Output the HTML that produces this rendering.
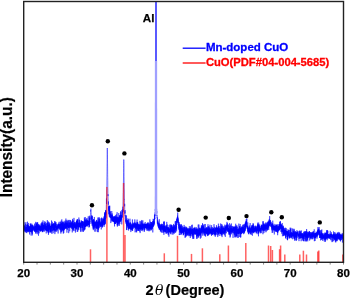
<!DOCTYPE html>
<html><head><meta charset="utf-8"><style>
html,body{margin:0;padding:0;background:#fff;width:350px;height:299px;overflow:hidden}
svg{display:block}
text{font-family:"Liberation Sans",sans-serif;font-weight:bold}
</style></head><body>
<svg width="350" height="299" viewBox="0 0 350 299">
<defs><clipPath id="c"><rect x="23.7" y="1.5" width="319.8" height="260.8"/></clipPath></defs>
<g clip-path="url(#c)">
<polyline fill="none" stroke="#0000ff" stroke-width="0.5" points="23.70,229.49 23.75,226.92 23.81,229.59 23.86,228.10 23.91,229.82 23.97,232.18 24.02,222.20 24.07,228.57 24.13,229.87 24.18,228.07 24.23,225.00 24.29,227.88 24.34,229.37 24.39,229.16 24.45,226.40 24.50,226.30 24.55,228.41 24.61,226.45 24.66,229.01 24.71,230.58 24.77,229.99 24.82,225.84 24.87,231.08 24.93,227.70 24.98,228.18 25.03,231.29 25.09,228.94 25.14,228.67 25.19,228.66 25.25,228.53 25.30,229.30 25.35,232.01 25.41,226.38 25.46,223.74 25.51,229.58 25.57,227.85 25.62,228.86 25.67,231.14 25.73,229.44 25.78,227.63 25.83,229.58 25.89,222.11 25.94,225.00 25.99,231.77 26.05,229.84 26.10,232.99 26.15,228.74 26.21,227.89 26.26,226.90 26.31,228.97 26.37,227.34 26.42,229.29 26.47,224.81 26.53,226.90 26.58,227.90 26.63,228.61 26.69,231.11 26.74,227.56 26.79,228.72 26.85,233.14 26.90,229.13 26.95,230.95 27.01,229.26 27.06,230.35 27.11,231.07 27.17,230.31 27.22,231.85 27.27,226.68 27.33,230.59 27.38,224.08 27.43,226.61 27.48,221.68 27.54,229.29 27.59,225.59 27.64,224.91 27.70,229.02 27.75,226.89 27.80,229.77 27.86,229.67 27.91,231.43 27.96,224.95 28.02,228.93 28.07,232.05 28.12,225.64 28.18,227.09 28.23,229.28 28.28,231.84 28.34,228.97 28.39,230.41 28.44,230.68 28.50,225.76 28.55,226.89 28.60,228.13 28.66,222.93 28.71,229.37 28.76,228.74 28.82,229.05 28.87,228.29 28.92,230.69 28.98,228.38 29.03,232.33 29.08,227.28 29.14,230.29 29.19,226.18 29.24,227.97 29.30,229.49 29.35,227.31 29.40,230.01 29.46,230.83 29.51,229.00 29.56,234.47 29.62,226.58 29.67,226.97 29.72,230.86 29.78,229.86 29.83,226.66 29.88,231.88 29.94,226.47 29.99,228.48 30.04,228.20 30.10,228.77 30.15,230.42 30.20,230.88 30.26,230.73 30.31,224.14 30.36,229.88 30.42,226.09 30.47,228.29 30.52,226.74 30.58,232.06 30.63,228.54 30.68,223.65 30.74,228.45 30.79,223.36 30.84,230.00 30.90,229.67 30.95,230.68 31.00,231.78 31.06,227.83 31.11,235.59 31.16,227.31 31.22,228.12 31.27,231.32 31.32,227.41 31.38,227.11 31.43,224.93 31.48,232.53 31.54,226.62 31.59,227.93 31.64,229.87 31.70,230.37 31.75,228.65 31.80,228.92 31.86,228.63 31.91,223.75 31.96,228.96 32.02,225.37 32.07,230.02 32.12,230.64 32.18,225.19 32.23,233.92 32.28,228.70 32.34,235.42 32.39,224.84 32.44,231.55 32.50,228.13 32.55,230.61 32.60,225.80 32.66,227.00 32.71,227.42 32.76,227.74 32.82,228.40 32.87,228.66 32.92,228.29 32.98,226.80 33.03,226.48 33.08,229.37 33.14,226.15 33.19,229.29 33.24,228.96 33.30,227.14 33.35,229.09 33.40,227.41 33.46,227.32 33.51,229.24 33.56,227.72 33.62,229.75 33.67,229.83 33.72,230.08 33.78,225.35 33.83,231.03 33.88,231.12 33.94,230.19 33.99,227.47 34.04,229.08 34.10,228.35 34.15,227.06 34.20,228.83 34.26,228.50 34.31,231.03 34.36,229.85 34.42,230.08 34.47,223.84 34.52,223.64 34.58,230.62 34.63,228.55 34.68,228.31 34.73,231.78 34.79,229.19 34.84,228.48 34.89,228.15 34.95,231.96 35.00,225.98 35.05,230.06 35.11,226.44 35.16,225.60 35.21,229.96 35.27,228.07 35.32,226.49 35.37,230.10 35.43,228.72 35.48,228.93 35.53,227.69 35.59,233.44 35.64,232.49 35.69,228.75 35.75,221.86 35.80,226.50 35.85,230.20 35.91,225.99 35.96,231.34 36.01,227.52 36.07,222.91 36.12,233.43 36.17,229.55 36.23,227.77 36.28,230.41 36.33,232.14 36.39,224.13 36.44,229.34 36.49,224.58 36.55,227.43 36.60,224.15 36.65,230.16 36.71,222.44 36.76,227.17 36.81,229.82 36.87,228.09 36.92,226.76 36.97,228.34 37.03,231.14 37.08,232.06 37.13,227.66 37.19,228.07 37.24,234.21 37.29,229.47 37.35,227.94 37.40,228.56 37.45,228.59 37.51,222.34 37.56,229.76 37.61,225.08 37.67,226.88 37.72,222.51 37.77,226.84 37.83,232.54 37.88,225.79 37.93,229.64 37.99,228.04 38.04,228.04 38.09,229.87 38.15,229.25 38.20,224.45 38.25,229.09 38.31,228.66 38.36,227.55 38.41,228.55 38.47,226.42 38.52,235.73 38.57,226.53 38.63,227.02 38.68,225.48 38.73,224.14 38.79,227.38 38.84,229.96 38.89,226.34 38.95,224.47 39.00,228.63 39.05,231.04 39.11,233.32 39.16,228.01 39.21,225.98 39.27,228.23 39.32,228.84 39.37,229.51 39.43,228.79 39.48,225.77 39.53,230.30 39.59,227.49 39.64,225.28 39.69,225.56 39.75,225.60 39.80,229.81 39.85,227.69 39.91,228.32 39.96,230.83 40.01,228.71 40.07,229.96 40.12,225.31 40.17,229.81 40.23,231.10 40.28,227.76 40.33,231.73 40.39,231.36 40.44,227.39 40.49,227.13 40.55,226.62 40.60,226.53 40.65,228.17 40.71,230.71 40.76,230.65 40.81,226.39 40.87,231.14 40.92,226.02 40.97,229.94 41.03,229.73 41.08,223.25 41.13,230.61 41.19,229.28 41.24,224.06 41.29,227.73 41.35,230.64 41.40,229.12 41.45,227.37 41.51,226.27 41.56,229.50 41.61,229.11 41.67,228.60 41.72,226.13 41.77,228.14 41.83,223.14 41.88,229.14 41.93,227.46 41.98,221.83 42.04,226.32 42.09,230.52 42.14,227.14 42.20,232.13 42.25,225.85 42.30,230.06 42.36,222.51 42.41,226.81 42.46,224.58 42.52,232.00 42.57,227.14 42.62,226.54 42.68,226.58 42.73,223.96 42.78,226.51 42.84,232.14 42.89,231.54 42.94,227.42 43.00,220.42 43.05,227.34 43.10,227.48 43.16,227.87 43.21,228.60 43.26,229.67 43.32,230.85 43.37,228.28 43.42,225.05 43.48,226.40 43.53,229.94 43.58,224.78 43.64,227.49 43.69,228.98 43.74,227.47 43.80,225.87 43.85,225.64 43.90,228.31 43.96,223.30 44.01,222.70 44.06,230.30 44.12,231.89 44.17,226.81 44.22,230.92 44.28,229.64 44.33,227.95 44.38,227.91 44.44,222.95 44.49,227.39 44.54,226.17 44.60,225.74 44.65,224.91 44.70,229.25 44.76,221.17 44.81,221.67 44.86,226.53 44.92,227.71 44.97,227.24 45.02,228.20 45.08,226.73 45.13,229.73 45.18,227.35 45.24,228.31 45.29,221.95 45.34,229.42 45.40,227.07 45.45,227.15 45.50,227.16 45.56,224.19 45.61,230.75 45.66,228.86 45.72,225.79 45.77,228.85 45.82,229.77 45.88,223.66 45.93,226.88 45.98,226.01 46.04,228.07 46.09,229.79 46.14,226.07 46.20,231.07 46.25,233.43 46.30,228.14 46.36,229.90 46.41,227.97 46.46,228.45 46.52,226.33 46.57,227.33 46.62,230.49 46.68,226.40 46.73,230.71 46.78,231.21 46.84,222.83 46.89,226.00 46.94,230.88 47.00,227.06 47.05,226.20 47.10,223.56 47.16,227.92 47.21,230.83 47.26,226.25 47.32,220.07 47.37,231.13 47.42,225.03 47.48,227.59 47.53,228.71 47.58,230.25 47.64,232.48 47.69,228.05 47.74,228.71 47.80,227.68 47.85,223.81 47.90,221.63 47.96,228.11 48.01,226.12 48.06,226.92 48.12,223.02 48.17,228.65 48.22,228.60 48.28,228.79 48.33,226.74 48.38,221.61 48.44,234.89 48.49,225.22 48.54,229.79 48.60,229.37 48.65,233.30 48.70,225.82 48.76,231.33 48.81,226.41 48.86,227.71 48.92,227.22 48.97,227.31 49.02,226.72 49.08,226.31 49.13,232.52 49.18,224.13 49.23,229.47 49.29,225.87 49.34,229.21 49.39,229.16 49.45,222.43 49.50,226.86 49.55,229.15 49.61,225.39 49.66,229.69 49.71,224.71 49.77,223.51 49.82,224.85 49.87,227.73 49.93,228.41 49.98,227.42 50.03,228.57 50.09,231.75 50.14,227.08 50.19,225.80 50.25,229.22 50.30,228.01 50.35,232.62 50.41,226.71 50.46,232.27 50.51,226.14 50.57,226.20 50.62,230.85 50.67,228.63 50.73,228.21 50.78,229.19 50.83,228.62 50.89,228.60 50.94,225.57 50.99,229.09 51.05,229.65 51.10,227.01 51.15,223.67 51.21,223.55 51.26,227.00 51.31,227.48 51.37,226.15 51.42,232.50 51.47,224.49 51.53,220.51 51.58,226.39 51.63,225.27 51.69,230.79 51.74,227.03 51.79,227.15 51.85,226.22 51.90,233.95 51.95,228.71 52.01,225.42 52.06,224.42 52.11,227.83 52.17,227.15 52.22,226.37 52.27,224.95 52.33,221.78 52.38,225.10 52.43,227.00 52.49,229.53 52.54,231.26 52.59,230.19 52.65,227.51 52.70,224.13 52.75,224.21 52.81,224.86 52.86,225.26 52.91,228.06 52.97,223.99 53.02,229.91 53.07,230.36 53.13,223.66 53.18,233.18 53.23,225.55 53.29,227.32 53.34,230.39 53.39,223.27 53.45,225.69 53.50,225.91 53.55,226.49 53.61,224.85 53.66,225.88 53.71,226.88 53.77,230.05 53.82,230.16 53.87,223.34 53.93,225.72 53.98,228.94 54.03,225.47 54.09,224.43 54.14,228.88 54.19,224.91 54.25,230.53 54.30,227.60 54.35,229.48 54.41,230.14 54.46,227.33 54.51,226.34 54.57,228.40 54.62,221.22 54.67,225.05 54.73,228.96 54.78,223.06 54.83,229.59 54.89,234.13 54.94,225.94 54.99,232.23 55.05,229.09 55.10,230.66 55.15,221.36 55.21,225.88 55.26,225.56 55.31,228.65 55.37,230.84 55.42,229.30 55.47,225.65 55.53,227.05 55.58,223.33 55.63,227.71 55.69,224.96 55.74,222.67 55.79,225.61 55.85,223.60 55.90,222.09 55.95,224.57 56.01,224.33 56.06,227.38 56.11,225.91 56.17,230.33 56.22,231.14 56.27,231.87 56.33,229.45 56.38,230.35 56.43,227.20 56.48,229.69 56.54,225.66 56.59,224.12 56.64,224.21 56.70,227.96 56.75,228.78 56.80,225.69 56.86,227.31 56.91,229.12 56.96,227.85 57.02,227.15 57.07,231.19 57.12,226.46 57.18,225.53 57.23,226.22 57.28,229.89 57.34,227.77 57.39,228.07 57.44,226.63 57.50,227.97 57.55,224.35 57.60,228.46 57.66,228.84 57.71,226.44 57.76,226.98 57.82,227.77 57.87,226.49 57.92,225.69 57.98,227.78 58.03,227.46 58.08,227.16 58.14,233.51 58.19,225.00 58.24,226.50 58.30,223.53 58.35,226.96 58.40,224.68 58.46,227.50 58.51,226.26 58.56,224.10 58.62,228.28 58.67,227.57 58.72,227.95 58.78,228.38 58.83,225.23 58.88,223.87 58.94,224.44 58.99,221.84 59.04,224.80 59.10,228.78 59.15,225.19 59.20,223.77 59.26,227.30 59.31,225.14 59.36,227.12 59.42,227.03 59.47,226.93 59.52,225.67 59.58,224.69 59.63,224.54 59.68,229.29 59.74,228.49 59.79,224.47 59.84,227.55 59.90,228.08 59.95,230.21 60.00,226.47 60.06,228.15 60.11,223.37 60.16,221.65 60.22,225.72 60.27,224.61 60.32,224.72 60.38,225.68 60.43,228.17 60.48,230.09 60.54,223.86 60.59,225.67 60.64,224.75 60.70,223.71 60.75,222.20 60.80,224.14 60.86,233.62 60.91,228.06 60.96,228.10 61.02,225.81 61.07,232.30 61.12,224.47 61.18,220.64 61.23,231.65 61.28,227.36 61.34,228.62 61.39,226.54 61.44,222.85 61.50,223.77 61.55,226.04 61.60,227.31 61.66,229.26 61.71,223.11 61.76,225.55 61.82,219.35 61.87,227.81 61.92,226.51 61.98,227.47 62.03,231.54 62.08,228.69 62.14,224.28 62.19,230.63 62.24,227.59 62.30,229.61 62.35,227.18 62.40,229.72 62.46,221.64 62.51,224.75 62.56,229.58 62.62,224.00 62.67,224.89 62.72,222.42 62.78,226.49 62.83,224.88 62.88,222.75 62.94,226.41 62.99,230.53 63.04,224.61 63.10,221.76 63.15,226.86 63.20,228.42 63.26,225.46 63.31,233.62 63.36,227.17 63.42,228.29 63.47,229.73 63.52,230.60 63.58,222.53 63.63,225.02 63.68,225.53 63.73,226.44 63.79,233.09 63.84,224.66 63.89,227.18 63.95,229.67 64.00,229.61 64.05,227.41 64.11,229.42 64.16,226.40 64.21,220.78 64.27,230.24 64.32,224.79 64.37,222.43 64.43,224.98 64.48,225.59 64.53,225.37 64.59,224.21 64.64,227.25 64.69,224.97 64.75,224.76 64.80,226.72 64.85,229.02 64.91,224.68 64.96,223.82 65.01,226.51 65.07,223.36 65.12,228.67 65.17,225.57 65.23,224.10 65.28,226.00 65.33,226.22 65.39,227.96 65.44,224.72 65.49,225.51 65.55,227.51 65.60,226.85 65.65,220.56 65.71,227.05 65.76,222.03 65.81,227.66 65.87,228.60 65.92,218.55 65.97,228.03 66.03,226.42 66.08,222.92 66.13,228.88 66.19,223.10 66.24,226.17 66.29,225.16 66.35,225.19 66.40,228.14 66.45,224.34 66.51,223.72 66.56,220.39 66.61,222.94 66.67,225.38 66.72,226.87 66.77,227.34 66.83,223.31 66.88,225.08 66.93,232.66 66.99,228.41 67.04,224.64 67.09,223.81 67.15,225.91 67.20,222.26 67.25,229.95 67.31,228.14 67.36,228.66 67.41,226.27 67.47,221.71 67.52,220.88 67.57,222.35 67.63,226.00 67.68,223.52 67.73,226.65 67.79,223.92 67.84,225.42 67.89,227.29 67.95,219.82 68.00,225.90 68.05,225.66 68.11,227.83 68.16,226.62 68.21,226.17 68.27,227.77 68.32,227.90 68.37,225.71 68.43,225.12 68.48,227.86 68.53,225.13 68.59,220.25 68.64,223.51 68.69,233.17 68.75,224.92 68.80,225.39 68.85,224.51 68.91,222.98 68.96,224.34 69.01,221.81 69.07,225.85 69.12,226.76 69.17,226.47 69.23,226.83 69.28,226.06 69.33,225.31 69.39,227.84 69.44,224.87 69.49,223.54 69.55,225.23 69.60,225.24 69.65,226.42 69.71,231.30 69.76,229.34 69.81,219.88 69.87,227.20 69.92,225.56 69.97,224.97 70.03,222.62 70.08,223.82 70.13,220.06 70.19,222.07 70.24,227.98 70.29,225.90 70.35,223.37 70.40,226.71 70.45,225.82 70.51,225.90 70.56,226.12 70.61,227.16 70.67,226.58 70.72,220.65 70.77,226.26 70.83,223.80 70.88,223.52 70.93,227.10 70.98,226.08 71.04,223.12 71.09,226.74 71.14,224.37 71.20,226.68 71.25,226.57 71.30,226.29 71.36,225.27 71.41,228.20 71.46,221.72 71.52,224.91 71.57,224.20 71.62,222.79 71.68,223.62 71.73,224.78 71.78,222.48 71.84,227.44 71.89,228.16 71.94,228.65 72.00,227.28 72.05,227.29 72.10,228.74 72.16,223.85 72.21,223.88 72.26,232.45 72.32,220.82 72.37,227.98 72.42,223.52 72.48,228.18 72.53,227.01 72.58,218.85 72.64,224.20 72.69,229.71 72.74,228.38 72.80,222.86 72.85,224.12 72.90,226.69 72.96,219.93 73.01,222.49 73.06,220.98 73.12,225.73 73.17,224.62 73.22,231.12 73.28,227.73 73.33,230.22 73.38,224.86 73.44,225.03 73.49,223.23 73.54,229.16 73.60,226.12 73.65,225.92 73.70,223.99 73.76,223.88 73.81,228.44 73.86,228.44 73.92,226.71 73.97,217.89 74.02,225.00 74.08,223.62 74.13,225.14 74.18,227.91 74.24,223.38 74.29,223.81 74.34,222.23 74.40,225.09 74.45,224.06 74.50,225.23 74.56,226.55 74.61,227.39 74.66,223.95 74.72,224.59 74.77,226.27 74.82,225.87 74.88,227.84 74.93,221.99 74.98,231.09 75.04,222.40 75.09,225.77 75.14,225.91 75.20,226.90 75.25,224.95 75.30,226.35 75.36,228.49 75.41,232.58 75.46,226.34 75.52,224.66 75.57,228.03 75.62,228.68 75.68,225.78 75.73,226.55 75.78,222.79 75.84,223.76 75.89,227.61 75.94,223.56 76.00,226.25 76.05,228.12 76.10,226.09 76.16,228.15 76.21,228.24 76.26,228.41 76.32,222.81 76.37,221.52 76.42,226.93 76.48,220.79 76.53,225.77 76.58,229.49 76.64,225.44 76.69,229.23 76.74,226.05 76.80,220.55 76.85,226.05 76.90,223.34 76.96,221.33 77.01,224.46 77.06,219.31 77.12,221.41 77.17,223.95 77.22,232.00 77.28,225.59 77.33,222.84 77.38,221.61 77.44,226.50 77.49,227.26 77.54,219.07 77.60,221.20 77.65,223.58 77.70,219.96 77.76,225.02 77.81,231.61 77.86,224.55 77.92,226.81 77.97,222.90 78.02,224.42 78.08,224.41 78.13,223.30 78.18,225.52 78.23,224.98 78.29,225.06 78.34,222.86 78.39,229.39 78.45,225.90 78.50,225.94 78.55,227.61 78.61,223.44 78.66,223.62 78.71,225.69 78.77,230.15 78.82,227.05 78.87,217.50 78.93,225.99 78.98,222.67 79.03,226.83 79.09,225.03 79.14,226.73 79.19,219.52 79.25,226.54 79.30,224.89 79.35,223.77 79.41,222.51 79.46,223.95 79.51,226.81 79.57,223.71 79.62,225.31 79.67,224.51 79.73,220.14 79.78,225.65 79.83,227.03 79.89,223.64 79.94,227.00 79.99,223.47 80.05,226.43 80.10,224.85 80.15,227.70 80.21,225.16 80.26,227.66 80.31,223.95 80.37,223.13 80.42,228.22 80.47,223.82 80.53,223.04 80.58,228.11 80.63,225.22 80.69,227.52 80.74,231.36 80.79,221.89 80.85,224.80 80.90,232.05 80.95,226.04 81.01,224.61 81.06,225.27 81.11,225.68 81.17,225.93 81.22,223.44 81.27,225.95 81.33,221.46 81.38,222.88 81.43,220.32 81.49,225.11 81.54,225.36 81.59,222.23 81.65,224.81 81.70,226.10 81.75,223.38 81.81,223.72 81.86,227.85 81.91,227.05 81.97,221.17 82.02,224.31 82.07,223.21 82.13,227.74 82.18,223.24 82.23,230.53 82.29,223.38 82.34,227.61 82.39,221.17 82.45,226.62 82.50,221.81 82.55,227.79 82.61,222.44 82.66,221.94 82.71,222.21 82.77,221.27 82.82,222.46 82.87,231.82 82.93,224.53 82.98,223.76 83.03,224.09 83.09,224.07 83.14,224.83 83.19,221.52 83.25,221.90 83.30,225.67 83.35,226.97 83.41,231.75 83.46,227.30 83.51,224.89 83.57,224.24 83.62,221.65 83.67,225.15 83.73,225.24 83.78,223.99 83.83,224.61 83.89,230.29 83.94,223.86 83.99,224.48 84.05,222.18 84.10,225.54 84.15,224.22 84.21,225.86 84.26,224.37 84.31,225.54 84.37,217.51 84.42,230.38 84.47,221.73 84.53,225.93 84.58,223.28 84.63,224.71 84.69,224.74 84.74,229.32 84.79,223.87 84.85,218.80 84.90,220.74 84.95,229.50 85.01,225.77 85.06,220.26 85.11,226.93 85.17,223.32 85.22,216.99 85.27,222.67 85.33,223.81 85.38,223.20 85.43,221.89 85.48,227.01 85.54,225.27 85.59,224.89 85.64,223.95 85.70,225.38 85.75,219.91 85.80,227.08 85.86,222.85 85.91,221.66 85.96,219.81 86.02,224.15 86.07,222.59 86.12,225.41 86.18,224.02 86.23,225.47 86.28,222.02 86.34,221.63 86.39,225.82 86.44,222.01 86.50,223.48 86.55,225.17 86.60,223.88 86.66,224.56 86.71,218.60 86.76,226.18 86.82,220.75 86.87,224.22 86.92,225.39 86.98,218.21 87.03,223.12 87.08,225.65 87.14,220.92 87.19,220.07 87.24,226.63 87.30,223.42 87.35,222.76 87.40,225.26 87.46,220.71 87.51,225.18 87.56,224.17 87.62,221.85 87.67,223.33 87.72,220.78 87.78,223.25 87.83,223.10 87.88,221.99 87.94,224.34 87.99,220.39 88.04,222.28 88.10,221.58 88.15,223.49 88.20,221.32 88.26,216.35 88.31,222.40 88.36,223.66 88.42,224.87 88.47,221.04 88.52,222.48 88.58,224.93 88.63,221.51 88.68,224.68 88.74,223.93 88.79,225.02 88.84,221.60 88.90,223.78 88.95,220.99 89.00,227.55 89.06,224.00 89.11,226.50 89.16,220.60 89.22,223.49 89.27,223.83 89.32,220.92 89.38,215.73 89.43,226.82 89.48,223.53 89.54,218.08 89.59,218.20 89.64,222.07 89.70,219.27 89.75,217.72 89.80,218.66 89.86,221.49 89.91,222.27 89.96,220.59 90.02,224.01 90.07,221.08 90.12,216.87 90.18,219.73 90.23,216.14 90.28,216.58 90.34,216.67 90.39,216.28 90.44,216.07 90.50,214.37 90.55,212.33 90.60,210.35 90.66,211.32 90.71,210.40 90.76,209.90 90.82,209.27 90.87,209.03 90.92,208.67 90.98,208.82 91.03,209.85 91.08,210.76 91.14,211.42 91.19,212.20 91.24,212.90 91.30,214.94 91.35,216.02 91.40,216.22 91.46,215.59 91.51,219.62 91.56,216.45 91.62,218.31 91.67,219.71 91.72,221.68 91.78,222.33 91.83,215.58 91.88,219.64 91.94,217.39 91.99,223.51 92.04,222.23 92.10,225.78 92.15,220.02 92.20,221.21 92.26,223.89 92.31,220.03 92.36,220.21 92.42,215.83 92.47,219.46 92.52,222.54 92.58,221.35 92.63,222.37 92.68,220.45 92.74,221.61 92.79,225.52 92.84,221.65 92.89,221.96 92.95,222.23 93.00,227.44 93.05,221.80 93.11,222.89 93.16,228.75 93.21,225.00 93.27,219.60 93.32,230.14 93.37,220.14 93.43,226.09 93.48,221.55 93.53,219.09 93.59,220.38 93.64,222.03 93.69,226.34 93.75,223.05 93.80,228.35 93.85,219.53 93.91,228.98 93.96,222.59 94.01,223.94 94.07,223.97 94.12,224.01 94.17,225.01 94.23,224.12 94.28,223.55 94.33,216.96 94.39,221.07 94.44,227.17 94.49,223.23 94.55,223.79 94.60,225.97 94.65,225.03 94.71,225.83 94.76,231.62 94.81,227.03 94.87,221.44 94.92,227.72 94.97,221.87 95.03,224.69 95.08,222.56 95.13,221.69 95.19,222.91 95.24,223.96 95.29,224.42 95.35,222.01 95.40,225.26 95.45,223.79 95.51,226.06 95.56,224.40 95.61,223.41 95.67,224.51 95.72,224.98 95.77,222.65 95.83,225.63 95.88,231.65 95.93,225.50 95.99,228.06 96.04,225.99 96.09,224.14 96.15,226.64 96.20,220.88 96.25,228.23 96.31,225.54 96.36,223.60 96.41,219.97 96.47,220.43 96.52,228.88 96.57,228.92 96.63,224.61 96.68,225.45 96.73,226.28 96.79,219.88 96.84,223.33 96.89,227.65 96.95,223.88 97.00,222.29 97.05,225.07 97.11,222.73 97.16,226.59 97.21,225.47 97.27,222.37 97.32,227.77 97.37,228.87 97.43,221.80 97.48,224.41 97.53,232.12 97.59,223.43 97.64,226.03 97.69,227.58 97.75,221.52 97.80,223.73 97.85,217.56 97.91,224.82 97.96,226.84 98.01,222.91 98.07,224.48 98.12,222.73 98.17,228.74 98.23,225.26 98.28,223.42 98.33,228.47 98.39,232.17 98.44,223.40 98.49,229.81 98.55,221.34 98.60,226.27 98.65,227.51 98.71,226.26 98.76,227.14 98.81,217.44 98.87,223.15 98.92,224.73 98.97,224.14 99.03,218.75 99.08,223.79 99.13,223.91 99.19,217.44 99.24,217.44 99.29,228.24 99.35,226.26 99.40,218.89 99.45,222.62 99.51,220.98 99.56,224.14 99.61,221.10 99.67,222.66 99.72,223.36 99.77,222.68 99.83,225.64 99.88,224.85 99.93,221.25 99.99,226.65 100.04,222.56 100.09,223.38 100.14,223.14 100.20,226.62 100.25,221.86 100.30,223.15 100.36,224.99 100.41,224.92 100.46,224.27 100.52,223.50 100.57,226.78 100.62,224.22 100.68,223.67 100.73,223.90 100.78,224.06 100.84,225.72 100.89,225.60 100.94,222.88 101.00,224.75 101.05,218.46 101.10,222.40 101.16,222.68 101.21,218.31 101.26,229.45 101.32,227.47 101.37,222.39 101.42,223.95 101.48,224.67 101.53,225.02 101.58,224.43 101.64,220.53 101.69,217.50 101.74,221.17 101.80,225.92 101.85,225.30 101.90,222.08 101.96,225.42 102.01,226.88 102.06,220.61 102.12,226.42 102.17,223.26 102.22,224.64 102.28,222.60 102.33,227.63 102.38,221.69 102.44,225.22 102.49,218.38 102.54,222.76 102.60,223.14 102.65,226.62 102.70,224.06 102.76,222.59 102.81,222.50 102.86,221.84 102.92,220.59 102.97,223.92 103.02,224.16 103.08,221.84 103.13,220.15 103.18,219.08 103.24,221.12 103.29,222.69 103.34,225.35 103.40,219.88 103.45,222.31 103.50,218.90 103.56,218.83 103.61,222.56 103.66,222.44 103.72,217.69 103.77,218.70 103.82,222.87 103.88,221.59 103.93,225.11 103.98,219.17 104.04,219.39 104.09,216.39 104.14,226.86 104.20,219.35 104.25,223.65 104.30,221.66 104.36,224.93 104.41,216.30 104.46,219.02 104.52,222.72 104.57,219.47 104.62,212.87 104.68,220.76 104.73,214.26 104.78,221.82 104.84,224.78 104.89,212.06 104.94,219.21 105.00,218.34 105.05,217.65 105.10,219.77 105.16,223.98 105.21,212.46 105.26,217.71 105.32,223.54 105.37,218.05 105.42,218.63 105.48,216.79 105.53,211.12 105.58,214.96 105.64,209.98 105.69,213.38 105.74,217.13 105.80,210.36 105.85,214.62 105.90,212.68 105.96,211.78 106.01,213.12 106.06,218.35 106.12,214.92 106.17,212.22 106.22,210.82 106.28,206.74 106.33,204.75 106.38,204.60 106.44,198.49 106.49,204.09 106.54,202.29 106.60,196.78 106.65,194.49 106.70,192.10 106.76,188.80 106.81,185.65 106.86,178.99 106.92,176.28 106.97,171.69 107.02,166.30 107.08,162.14 107.13,157.27 107.18,153.18 107.24,149.75 107.29,148.01 107.34,149.30 107.39,151.05 107.45,154.65 107.50,159.72 107.55,163.19 107.61,168.03 107.66,174.56 107.71,177.63 107.77,180.64 107.82,187.77 107.87,188.75 107.93,190.22 107.98,196.08 108.03,194.20 108.09,196.06 108.14,197.84 108.19,198.37 108.25,201.91 108.30,204.50 108.35,203.67 108.41,201.46 108.46,203.78 108.51,207.18 108.57,211.45 108.62,208.27 108.67,206.55 108.73,209.58 108.78,206.45 108.83,208.43 108.89,210.70 108.94,214.52 108.99,211.88 109.05,214.00 109.10,212.92 109.15,206.37 109.21,208.48 109.26,216.61 109.31,214.54 109.37,213.10 109.42,209.79 109.47,212.70 109.53,205.92 109.58,213.58 109.63,217.29 109.69,211.75 109.74,205.65 109.79,212.32 109.85,212.48 109.90,212.66 109.95,214.75 110.01,212.02 110.06,212.69 110.11,214.21 110.17,217.60 110.22,214.17 110.27,215.96 110.33,215.02 110.38,211.08 110.43,213.62 110.49,214.13 110.54,216.55 110.59,214.69 110.65,214.29 110.70,218.03 110.75,215.27 110.81,223.08 110.86,218.20 110.91,215.49 110.97,218.18 111.02,217.95 111.07,213.58 111.13,216.83 111.18,216.29 111.23,215.31 111.29,217.77 111.34,219.20 111.39,218.97 111.45,217.79 111.50,216.06 111.55,215.03 111.61,217.30 111.66,217.49 111.71,220.35 111.77,210.97 111.82,217.21 111.87,215.19 111.93,216.43 111.98,220.66 112.03,214.87 112.09,221.86 112.14,215.41 112.19,217.93 112.25,213.46 112.30,217.77 112.35,221.08 112.41,219.75 112.46,220.63 112.51,219.85 112.57,217.90 112.62,218.63 112.67,217.25 112.73,216.91 112.78,220.04 112.83,221.35 112.89,219.95 112.94,217.26 112.99,219.80 113.05,218.82 113.10,216.30 113.15,218.01 113.21,220.29 113.26,218.85 113.31,217.55 113.37,218.33 113.42,219.29 113.47,217.27 113.53,221.97 113.58,220.11 113.63,220.42 113.69,220.61 113.74,221.02 113.79,217.40 113.85,221.96 113.90,218.44 113.95,218.79 114.01,220.77 114.06,216.02 114.11,219.65 114.17,222.22 114.22,218.00 114.27,216.47 114.33,223.71 114.38,219.38 114.43,218.31 114.49,218.54 114.54,226.41 114.59,221.31 114.64,223.15 114.70,216.75 114.75,219.51 114.80,221.94 114.86,219.71 114.91,222.37 114.96,217.00 115.02,218.38 115.07,223.94 115.12,216.15 115.18,217.10 115.23,223.86 115.28,217.08 115.34,220.36 115.39,215.16 115.44,216.78 115.50,219.38 115.55,217.81 115.60,217.78 115.66,220.96 115.71,224.00 115.76,221.90 115.82,217.41 115.87,217.33 115.92,216.50 115.98,221.88 116.03,220.95 116.08,222.18 116.14,217.28 116.19,219.99 116.24,222.18 116.30,218.04 116.35,217.87 116.40,214.31 116.46,219.83 116.51,220.95 116.56,218.66 116.62,222.82 116.67,217.34 116.72,220.08 116.78,221.26 116.83,219.42 116.88,222.31 116.94,221.53 116.99,218.40 117.04,219.31 117.10,212.20 117.15,219.82 117.20,225.30 117.26,218.92 117.31,219.39 117.36,226.63 117.42,216.74 117.47,219.03 117.52,217.45 117.58,218.55 117.63,218.48 117.68,225.36 117.74,221.72 117.79,219.78 117.84,221.22 117.90,219.58 117.95,219.75 118.00,220.86 118.06,222.69 118.11,219.16 118.16,217.01 118.22,222.36 118.27,223.96 118.32,225.68 118.38,220.03 118.43,220.49 118.48,224.03 118.54,218.15 118.59,219.52 118.64,218.13 118.70,217.74 118.75,213.08 118.80,216.11 118.86,221.31 118.91,218.58 118.96,221.12 119.02,220.03 119.07,220.56 119.12,217.11 119.18,218.74 119.23,222.83 119.28,217.33 119.34,221.59 119.39,216.37 119.44,225.77 119.50,218.51 119.55,220.26 119.60,216.66 119.66,221.36 119.71,219.12 119.76,215.90 119.82,215.05 119.87,223.91 119.92,216.87 119.98,217.74 120.03,215.15 120.08,217.83 120.14,221.33 120.19,217.59 120.24,215.53 120.30,221.12 120.35,217.61 120.40,217.44 120.46,217.14 120.51,220.20 120.56,220.70 120.62,211.28 120.67,219.54 120.72,222.01 120.78,216.25 120.83,217.02 120.88,212.19 120.94,216.90 120.99,219.63 121.04,214.72 121.10,219.52 121.15,217.29 121.20,215.78 121.26,220.60 121.31,215.29 121.36,217.50 121.42,217.74 121.47,219.11 121.52,215.77 121.58,217.43 121.63,216.40 121.68,215.98 121.74,224.40 121.79,220.16 121.84,220.11 121.89,209.91 121.95,215.64 122.00,215.49 122.05,215.13 122.11,217.53 122.16,215.19 122.21,217.49 122.27,215.35 122.32,214.39 122.37,211.04 122.43,214.95 122.48,212.10 122.53,212.56 122.59,210.75 122.64,212.05 122.69,211.41 122.75,211.04 122.80,206.70 122.85,211.21 122.91,209.01 122.96,211.86 123.01,209.59 123.07,202.16 123.12,201.24 123.17,197.05 123.23,193.07 123.28,192.86 123.33,189.23 123.39,186.81 123.44,180.97 123.49,178.02 123.55,172.73 123.60,168.55 123.65,165.33 123.71,161.31 123.76,159.53 123.81,159.58 123.87,161.19 123.92,163.62 123.97,167.12 124.03,172.15 124.08,176.42 124.13,180.96 124.19,187.24 124.24,188.26 124.29,189.13 124.35,193.02 124.40,199.27 124.45,198.98 124.51,202.71 124.56,204.42 124.61,206.37 124.67,203.83 124.72,209.24 124.77,214.25 124.83,211.48 124.88,212.13 124.93,212.89 124.99,212.77 125.04,210.00 125.09,215.11 125.15,216.38 125.20,215.03 125.25,216.37 125.31,216.67 125.36,219.30 125.41,218.34 125.47,216.41 125.52,215.59 125.57,218.15 125.63,219.88 125.68,221.48 125.73,220.64 125.79,219.69 125.84,221.64 125.89,219.00 125.95,221.82 126.00,222.73 126.05,223.48 126.11,220.30 126.16,223.20 126.21,223.67 126.27,221.18 126.32,221.74 126.37,221.28 126.43,222.35 126.48,224.68 126.53,215.36 126.59,229.91 126.64,227.11 126.69,226.63 126.75,225.10 126.80,221.66 126.85,230.11 126.91,221.98 126.96,222.20 127.01,222.09 127.07,225.54 127.12,223.68 127.17,218.37 127.23,224.79 127.28,220.43 127.33,226.22 127.39,223.58 127.44,221.62 127.49,226.08 127.55,221.39 127.60,224.10 127.65,220.28 127.71,225.60 127.76,224.89 127.81,227.72 127.87,224.69 127.92,220.10 127.97,224.06 128.03,223.29 128.08,220.89 128.13,223.03 128.19,225.71 128.24,227.19 128.29,223.93 128.35,224.21 128.40,224.78 128.45,228.65 128.51,218.73 128.56,230.49 128.61,227.47 128.67,224.58 128.72,228.24 128.77,222.88 128.83,228.65 128.88,226.06 128.93,222.26 128.99,224.91 129.04,229.28 129.09,223.94 129.14,226.11 129.20,227.53 129.25,227.46 129.30,228.09 129.36,223.44 129.41,228.66 129.46,228.48 129.52,226.15 129.57,227.05 129.62,226.18 129.68,225.87 129.73,226.01 129.78,228.15 129.84,223.49 129.89,224.01 129.94,218.68 130.00,224.34 130.05,227.02 130.10,225.20 130.16,227.97 130.21,223.54 130.26,223.39 130.32,224.76 130.37,224.59 130.42,222.13 130.48,224.29 130.53,229.59 130.58,226.45 130.64,223.46 130.69,223.14 130.74,225.98 130.80,228.41 130.85,232.07 130.90,226.60 130.96,228.89 131.01,226.77 131.06,228.87 131.12,225.12 131.17,223.59 131.22,230.13 131.28,226.52 131.33,225.47 131.38,228.33 131.44,225.69 131.49,228.70 131.54,229.43 131.60,227.89 131.65,225.55 131.70,225.08 131.76,226.53 131.81,226.81 131.86,226.58 131.92,226.05 131.97,224.05 132.02,224.58 132.08,224.01 132.13,230.60 132.18,224.86 132.24,230.32 132.29,224.39 132.34,223.96 132.40,219.43 132.45,229.18 132.50,228.16 132.56,225.89 132.61,230.99 132.66,227.89 132.72,227.45 132.77,229.05 132.82,225.89 132.88,222.62 132.93,226.85 132.98,226.93 133.04,226.24 133.09,228.79 133.14,224.73 133.20,225.51 133.25,224.72 133.30,226.06 133.36,224.99 133.41,225.72 133.46,223.36 133.52,227.12 133.57,224.83 133.62,227.07 133.68,226.43 133.73,227.66 133.78,224.48 133.84,226.97 133.89,226.68 133.94,226.39 134.00,224.05 134.05,227.33 134.10,223.14 134.16,227.72 134.21,227.24 134.26,225.42 134.32,222.27 134.37,227.03 134.42,224.95 134.48,225.34 134.53,224.19 134.58,227.53 134.64,223.45 134.69,226.85 134.74,225.29 134.80,219.38 134.85,219.46 134.90,222.98 134.96,226.95 135.01,225.23 135.06,223.13 135.12,232.39 135.17,226.98 135.22,227.00 135.28,226.83 135.33,225.62 135.38,223.15 135.44,227.11 135.49,225.81 135.54,226.85 135.60,228.50 135.65,224.53 135.70,225.04 135.76,225.57 135.81,229.15 135.86,223.91 135.92,225.12 135.97,224.42 136.02,227.04 136.08,221.89 136.13,224.91 136.18,232.06 136.24,226.22 136.29,227.19 136.34,224.53 136.39,225.52 136.45,228.00 136.50,224.08 136.55,226.94 136.61,226.79 136.66,232.43 136.71,229.49 136.77,230.92 136.82,225.73 136.87,227.88 136.93,223.11 136.98,225.37 137.03,227.74 137.09,219.58 137.14,229.33 137.19,228.65 137.25,227.69 137.30,228.92 137.35,223.43 137.41,228.18 137.46,225.32 137.51,224.29 137.57,222.16 137.62,227.95 137.67,222.16 137.73,230.78 137.78,227.41 137.83,224.86 137.89,223.73 137.94,227.28 137.99,224.71 138.05,223.75 138.10,230.59 138.15,225.59 138.21,225.84 138.26,225.80 138.31,229.79 138.37,226.99 138.42,226.75 138.47,224.21 138.53,230.05 138.58,230.98 138.63,224.58 138.69,224.53 138.74,229.28 138.79,228.91 138.85,228.46 138.90,227.24 138.95,227.11 139.01,225.18 139.06,230.93 139.11,228.52 139.17,228.00 139.22,228.18 139.27,228.94 139.33,226.00 139.38,228.82 139.43,227.22 139.49,226.11 139.54,224.60 139.59,227.27 139.65,226.23 139.70,227.70 139.75,224.52 139.81,231.64 139.86,230.35 139.91,220.85 139.97,227.11 140.02,228.80 140.07,224.63 140.13,233.10 140.18,225.63 140.23,225.61 140.29,229.85 140.34,224.43 140.39,227.63 140.45,227.55 140.50,226.12 140.55,227.85 140.61,229.30 140.66,225.33 140.71,224.71 140.77,227.28 140.82,226.02 140.87,221.27 140.93,229.08 140.98,229.02 141.03,226.35 141.09,225.50 141.14,226.74 141.19,222.48 141.25,224.35 141.30,226.65 141.35,227.41 141.41,227.05 141.46,228.62 141.51,230.83 141.57,230.40 141.62,226.34 141.67,229.36 141.73,219.96 141.78,229.05 141.83,228.98 141.89,226.28 141.94,221.25 141.99,228.45 142.05,228.63 142.10,229.54 142.15,225.61 142.21,224.36 142.26,225.50 142.31,226.07 142.37,227.02 142.42,228.17 142.47,226.46 142.53,229.86 142.58,223.73 142.63,227.41 142.69,226.39 142.74,231.21 142.79,227.04 142.85,220.35 142.90,226.02 142.95,223.27 143.01,230.01 143.06,227.63 143.11,227.29 143.17,225.04 143.22,224.38 143.27,226.54 143.33,227.47 143.38,228.15 143.43,224.77 143.49,224.69 143.54,226.94 143.59,226.79 143.64,224.48 143.70,224.12 143.75,226.80 143.80,228.53 143.86,228.20 143.91,227.16 143.96,226.53 144.02,225.56 144.07,228.59 144.12,223.56 144.18,223.91 144.23,228.63 144.28,231.97 144.34,226.42 144.39,230.76 144.44,228.93 144.50,228.16 144.55,227.33 144.60,225.05 144.66,223.52 144.71,227.01 144.76,228.17 144.82,224.41 144.87,226.65 144.92,229.78 144.98,224.18 145.03,225.96 145.08,224.22 145.14,225.17 145.19,221.98 145.24,227.51 145.30,226.01 145.35,224.10 145.40,224.91 145.46,224.71 145.51,228.14 145.56,224.30 145.62,227.76 145.67,224.60 145.72,228.12 145.78,227.88 145.83,226.93 145.88,228.13 145.94,224.78 145.99,228.00 146.04,227.59 146.10,227.13 146.15,223.98 146.20,226.11 146.26,227.23 146.31,224.34 146.36,225.49 146.42,227.74 146.47,226.40 146.52,228.63 146.58,226.13 146.63,226.48 146.68,224.27 146.74,224.81 146.79,225.57 146.84,229.27 146.90,223.15 146.95,225.91 147.00,230.73 147.06,226.31 147.11,227.94 147.16,226.46 147.22,224.15 147.27,228.30 147.32,230.51 147.38,223.96 147.43,223.46 147.48,224.55 147.54,227.19 147.59,222.55 147.64,227.46 147.70,224.71 147.75,228.07 147.80,228.47 147.86,226.51 147.91,225.15 147.96,224.27 148.02,225.86 148.07,226.78 148.12,227.14 148.18,228.50 148.23,229.62 148.28,222.36 148.34,228.85 148.39,231.21 148.44,230.04 148.50,224.91 148.55,223.34 148.60,227.61 148.66,225.58 148.71,227.74 148.76,226.51 148.82,224.88 148.87,226.83 148.92,230.20 148.98,228.15 149.03,229.60 149.08,225.54 149.14,225.51 149.19,227.15 149.24,223.35 149.30,224.21 149.35,223.89 149.40,225.66 149.46,227.64 149.51,224.30 149.56,228.63 149.62,231.24 149.67,227.21 149.72,225.83 149.78,228.67 149.83,226.49 149.88,219.33 149.94,226.11 149.99,229.06 150.04,229.45 150.10,227.75 150.15,225.44 150.20,227.74 150.26,228.28 150.31,229.39 150.36,227.40 150.42,221.68 150.47,228.44 150.52,225.13 150.58,224.03 150.63,228.88 150.68,229.22 150.74,226.18 150.79,227.10 150.84,226.07 150.89,230.72 150.95,226.01 151.00,227.75 151.05,226.47 151.11,222.09 151.16,224.19 151.21,229.24 151.27,223.07 151.32,222.34 151.37,225.38 151.43,229.98 151.48,229.73 151.53,222.12 151.59,224.37 151.64,225.50 151.69,223.40 151.75,225.30 151.80,224.44 151.85,224.50 151.91,228.63 151.96,228.89 152.01,224.60 152.07,227.13 152.12,224.14 152.17,228.55 152.23,224.48 152.28,228.22 152.33,228.49 152.39,225.47 152.44,222.32 152.49,226.10 152.55,223.79 152.60,221.06 152.65,227.42 152.71,226.32 152.76,228.70 152.81,232.44 152.87,225.63 152.92,223.48 152.97,226.31 153.03,223.50 153.08,224.34 153.13,218.82 153.19,220.09 153.24,226.34 153.29,224.13 153.35,223.40 153.40,226.70 153.45,221.60 153.51,221.79 153.56,224.24 153.61,225.03 153.67,224.07 153.72,219.37 153.77,224.70 153.83,223.27 153.88,221.02 153.93,223.30 153.99,223.14 154.04,221.85 154.09,225.55 154.15,222.18 154.20,224.13 154.25,219.18 154.31,221.39 154.36,222.39 154.41,217.75 154.47,215.28 154.52,217.93 154.57,220.01 154.63,219.06 154.68,214.25 154.73,218.91 154.79,217.89 154.84,218.63 154.89,215.37 154.95,214.48 155.00,215.42 155.05,216.03 155.11,212.55 155.16,213.94 155.21,212.76 155.27,212.96 155.32,209.02 155.37,210.86 155.43,208.91 155.48,208.42 155.53,207.51 155.59,205.79 155.64,205.08 155.69,202.56 155.75,202.04 155.80,201.98 155.85,200.89 155.91,200.71 155.96,200.28 156.01,200.08 156.07,200.04 156.12,200.47 156.17,201.71 156.23,202.68 156.28,203.34 156.33,203.63 156.39,205.02 156.44,207.15 156.49,207.93 156.55,213.04 156.60,208.80 156.65,212.87 156.71,211.12 156.76,211.09 156.81,211.86 156.87,216.01 156.92,215.47 156.97,215.42 157.03,216.21 157.08,215.88 157.13,218.09 157.19,217.12 157.24,216.84 157.29,219.66 157.35,223.58 157.40,218.07 157.45,220.37 157.51,221.65 157.56,221.36 157.61,220.35 157.67,224.08 157.72,221.88 157.77,223.92 157.83,221.23 157.88,221.36 157.93,220.80 157.99,226.55 158.04,223.77 158.09,225.52 158.15,224.07 158.20,223.51 158.25,224.47 158.30,222.42 158.36,225.23 158.41,223.96 158.46,228.12 158.52,225.73 158.57,224.92 158.62,225.70 158.68,224.67 158.73,225.04 158.78,227.62 158.84,223.55 158.89,225.44 158.94,226.71 159.00,225.31 159.05,229.46 159.10,224.71 159.16,226.67 159.21,226.42 159.26,219.19 159.32,226.99 159.37,223.35 159.42,223.85 159.48,227.45 159.53,228.50 159.58,226.48 159.64,228.98 159.69,230.00 159.74,226.24 159.80,227.12 159.85,229.32 159.90,224.57 159.96,227.29 160.01,228.68 160.06,225.23 160.12,225.53 160.17,224.61 160.22,224.86 160.28,226.46 160.33,228.27 160.38,231.46 160.44,226.49 160.49,229.10 160.54,230.89 160.60,227.86 160.65,228.95 160.70,225.59 160.76,226.93 160.81,228.79 160.86,230.09 160.92,224.01 160.97,225.78 161.02,232.22 161.08,229.63 161.13,229.83 161.18,225.53 161.24,227.69 161.29,228.49 161.34,225.27 161.40,227.83 161.45,226.41 161.50,224.54 161.56,226.17 161.61,232.59 161.66,232.54 161.72,224.82 161.77,226.59 161.82,223.66 161.88,226.32 161.93,229.47 161.98,229.27 162.04,228.46 162.09,226.30 162.14,226.13 162.20,226.01 162.25,225.64 162.30,229.39 162.36,228.70 162.41,229.18 162.46,225.60 162.52,224.01 162.57,226.91 162.62,228.19 162.68,225.69 162.73,230.40 162.78,226.76 162.84,226.28 162.89,228.76 162.94,232.79 163.00,227.78 163.05,228.49 163.10,228.39 163.16,232.24 163.21,232.48 163.26,228.72 163.32,229.15 163.37,227.47 163.42,225.38 163.48,231.43 163.53,230.27 163.58,230.36 163.64,221.63 163.69,230.14 163.74,229.57 163.80,226.51 163.85,230.40 163.90,234.84 163.96,230.42 164.01,230.32 164.06,221.91 164.12,227.78 164.17,231.14 164.22,225.81 164.28,231.15 164.33,221.35 164.38,229.86 164.44,229.28 164.49,226.35 164.54,228.58 164.60,232.17 164.65,230.49 164.70,227.30 164.76,230.96 164.81,225.96 164.86,228.46 164.92,227.63 164.97,227.13 165.02,231.99 165.08,230.70 165.13,229.91 165.18,230.73 165.24,230.73 165.29,230.92 165.34,229.36 165.40,232.25 165.45,229.08 165.50,226.27 165.55,227.96 165.61,231.38 165.66,229.21 165.71,231.42 165.77,232.12 165.82,229.47 165.87,230.37 165.93,230.72 165.98,229.63 166.03,225.03 166.09,233.65 166.14,227.68 166.19,226.91 166.25,233.64 166.30,226.63 166.35,225.60 166.41,229.23 166.46,226.77 166.51,227.86 166.57,229.35 166.62,229.40 166.67,227.90 166.73,227.50 166.78,221.87 166.83,229.43 166.89,228.88 166.94,228.97 166.99,228.35 167.05,230.37 167.10,232.87 167.15,230.74 167.21,232.98 167.26,228.49 167.31,224.47 167.37,227.03 167.42,230.34 167.47,227.38 167.53,228.86 167.58,227.57 167.63,228.39 167.69,227.65 167.74,230.42 167.79,227.74 167.85,229.68 167.90,232.06 167.95,231.45 168.01,229.49 168.06,232.17 168.11,234.17 168.17,231.93 168.22,229.91 168.27,235.16 168.33,233.21 168.38,227.64 168.43,230.79 168.49,228.77 168.54,231.33 168.59,227.05 168.65,229.93 168.70,228.74 168.75,228.48 168.81,229.13 168.86,233.16 168.91,236.73 168.97,229.83 169.02,230.23 169.07,230.05 169.13,225.10 169.18,228.93 169.23,231.11 169.29,229.69 169.34,228.70 169.39,231.39 169.45,230.69 169.50,232.30 169.55,229.85 169.61,229.40 169.66,230.26 169.71,231.37 169.77,228.40 169.82,231.67 169.87,229.87 169.93,229.09 169.98,232.68 170.03,228.05 170.09,224.15 170.14,229.89 170.19,229.61 170.25,231.02 170.30,230.24 170.35,233.92 170.41,231.66 170.46,228.26 170.51,232.65 170.57,230.20 170.62,225.19 170.67,231.17 170.73,231.55 170.78,230.30 170.83,229.83 170.89,228.28 170.94,227.58 170.99,230.99 171.05,227.87 171.10,234.40 171.15,227.62 171.21,224.43 171.26,229.37 171.31,230.15 171.37,225.40 171.42,230.62 171.47,226.33 171.53,225.24 171.58,232.01 171.63,227.15 171.69,230.05 171.74,225.64 171.79,229.25 171.85,226.26 171.90,232.63 171.95,229.31 172.01,230.48 172.06,231.11 172.11,230.42 172.17,225.40 172.22,229.14 172.27,230.46 172.33,230.63 172.38,226.98 172.43,232.05 172.49,231.00 172.54,229.92 172.59,230.20 172.65,227.57 172.70,228.16 172.75,231.42 172.80,230.58 172.86,234.84 172.91,234.63 172.96,228.08 173.02,227.68 173.07,227.98 173.12,233.74 173.18,228.71 173.23,229.59 173.28,225.17 173.34,232.29 173.39,229.08 173.44,231.97 173.50,223.92 173.55,225.81 173.60,226.61 173.66,229.93 173.71,227.91 173.76,232.95 173.82,226.90 173.87,227.11 173.92,232.66 173.98,232.23 174.03,228.50 174.08,226.51 174.14,230.35 174.19,230.07 174.24,225.83 174.30,229.94 174.35,233.68 174.40,227.10 174.46,230.57 174.51,224.83 174.56,227.68 174.62,228.26 174.67,231.72 174.72,230.77 174.78,229.25 174.83,228.53 174.88,229.49 174.94,227.74 174.99,229.14 175.04,228.96 175.10,227.41 175.15,228.32 175.20,221.30 175.26,232.07 175.31,227.53 175.36,227.74 175.42,228.75 175.47,229.69 175.52,229.02 175.58,226.78 175.63,232.88 175.68,228.44 175.74,226.17 175.79,220.90 175.84,227.88 175.90,223.67 175.95,227.13 176.00,226.77 176.06,224.42 176.11,224.41 176.16,221.15 176.22,222.38 176.27,225.56 176.32,224.59 176.38,226.36 176.43,227.67 176.48,229.58 176.54,226.12 176.59,229.64 176.64,231.36 176.70,218.64 176.75,222.49 176.80,222.49 176.86,219.64 176.91,223.87 176.96,224.29 177.02,224.73 177.07,218.97 177.12,219.60 177.18,222.91 177.23,217.67 177.28,219.04 177.34,216.98 177.39,217.44 177.44,217.45 177.50,220.42 177.55,216.55 177.60,215.65 177.66,220.23 177.71,212.55 177.76,218.66 177.82,221.60 177.87,217.38 177.92,218.11 177.98,219.93 178.03,222.41 178.08,222.57 178.14,220.40 178.19,221.90 178.24,218.47 178.30,220.25 178.35,222.86 178.40,222.06 178.46,222.21 178.51,225.53 178.56,225.82 178.62,226.42 178.67,224.60 178.72,224.61 178.78,221.87 178.83,228.14 178.88,222.03 178.94,225.66 178.99,229.73 179.04,227.15 179.10,229.32 179.15,228.01 179.20,225.61 179.26,227.01 179.31,234.79 179.36,234.21 179.42,235.05 179.47,225.29 179.52,223.66 179.58,226.58 179.63,226.80 179.68,228.12 179.74,231.91 179.79,228.18 179.84,229.78 179.90,224.64 179.95,229.00 180.00,229.81 180.05,226.64 180.11,230.09 180.16,233.12 180.21,228.73 180.27,225.66 180.32,229.90 180.37,224.27 180.43,230.41 180.48,227.67 180.53,225.83 180.59,234.87 180.64,229.22 180.69,228.38 180.75,231.31 180.80,230.17 180.85,227.74 180.91,232.66 180.96,230.98 181.01,230.20 181.07,229.51 181.12,227.87 181.17,229.49 181.23,233.21 181.28,227.56 181.33,230.14 181.39,231.81 181.44,230.54 181.49,224.23 181.55,234.61 181.60,230.65 181.65,230.28 181.71,225.29 181.76,233.86 181.81,230.73 181.87,231.61 181.92,232.52 181.97,231.65 182.03,229.75 182.08,231.73 182.13,232.56 182.19,230.41 182.24,229.64 182.29,225.77 182.35,226.40 182.40,232.78 182.45,230.22 182.51,231.62 182.56,229.63 182.61,227.96 182.67,231.05 182.72,229.65 182.77,232.92 182.83,228.93 182.88,226.76 182.93,231.85 182.99,228.01 183.04,230.82 183.09,231.80 183.15,230.41 183.20,229.85 183.25,235.32 183.31,230.11 183.36,232.49 183.41,234.27 183.47,234.16 183.52,227.24 183.57,234.30 183.63,234.99 183.68,231.00 183.73,231.30 183.79,230.07 183.84,230.72 183.89,230.16 183.95,228.93 184.00,230.01 184.05,230.90 184.11,224.92 184.16,232.04 184.21,230.84 184.27,230.04 184.32,229.45 184.37,229.56 184.43,227.15 184.48,226.75 184.53,230.14 184.59,228.82 184.64,230.77 184.69,227.35 184.75,232.21 184.80,230.66 184.85,228.48 184.91,231.14 184.96,230.26 185.01,233.99 185.07,227.19 185.12,237.98 185.17,232.44 185.23,231.22 185.28,232.65 185.33,229.74 185.39,236.95 185.44,232.86 185.49,230.16 185.55,231.18 185.60,235.75 185.65,230.06 185.71,234.24 185.76,230.31 185.81,226.36 185.87,227.23 185.92,230.01 185.97,228.18 186.03,233.39 186.08,233.34 186.13,232.19 186.19,236.65 186.24,227.13 186.29,228.44 186.35,230.73 186.40,233.84 186.45,228.38 186.51,235.65 186.56,235.50 186.61,229.31 186.67,231.34 186.72,231.68 186.77,227.33 186.83,227.26 186.88,234.41 186.93,232.15 186.99,232.61 187.04,228.17 187.09,231.25 187.15,230.36 187.20,228.47 187.25,230.41 187.30,230.68 187.36,231.43 187.41,231.73 187.46,235.41 187.52,229.11 187.57,233.81 187.62,235.36 187.68,234.35 187.73,232.11 187.78,233.04 187.84,234.09 187.89,228.98 187.94,228.50 188.00,229.70 188.05,229.41 188.10,231.40 188.16,229.25 188.21,230.09 188.26,231.77 188.32,230.48 188.37,232.97 188.42,232.53 188.48,231.92 188.53,230.65 188.58,234.59 188.64,232.56 188.69,228.27 188.74,229.38 188.80,235.61 188.85,232.59 188.90,232.53 188.96,236.26 189.01,232.57 189.06,229.81 189.12,230.12 189.17,231.24 189.22,228.33 189.28,233.02 189.33,226.18 189.38,229.82 189.44,230.44 189.49,230.78 189.54,229.48 189.60,229.93 189.65,235.62 189.70,232.28 189.76,229.61 189.81,233.29 189.86,230.57 189.92,234.27 189.97,229.48 190.02,228.42 190.08,230.33 190.13,232.30 190.18,235.55 190.24,234.40 190.29,238.02 190.34,232.01 190.40,233.45 190.45,234.65 190.50,226.35 190.56,233.81 190.61,229.96 190.66,231.65 190.72,229.76 190.77,235.64 190.82,228.28 190.88,230.60 190.93,229.61 190.98,228.56 191.04,234.10 191.09,232.94 191.14,236.35 191.20,235.21 191.25,229.90 191.30,231.03 191.36,231.73 191.41,231.45 191.46,233.78 191.52,231.52 191.57,230.80 191.62,229.53 191.68,231.89 191.73,230.25 191.78,225.10 191.84,233.26 191.89,231.33 191.94,231.03 192.00,234.56 192.05,229.67 192.10,229.59 192.16,232.24 192.21,224.62 192.26,230.84 192.32,228.93 192.37,235.08 192.42,236.48 192.48,229.44 192.53,234.94 192.58,228.88 192.64,238.73 192.69,237.42 192.74,229.20 192.80,231.97 192.85,232.49 192.90,229.73 192.96,231.15 193.01,233.23 193.06,231.69 193.12,235.11 193.17,232.78 193.22,232.32 193.28,232.29 193.33,238.76 193.38,233.95 193.44,227.77 193.49,231.22 193.54,232.14 193.60,232.14 193.65,230.68 193.70,228.62 193.76,229.35 193.81,238.78 193.86,230.02 193.92,231.03 193.97,230.96 194.02,234.98 194.08,232.47 194.13,229.53 194.18,233.74 194.24,232.65 194.29,230.07 194.34,231.41 194.40,227.97 194.45,230.65 194.50,231.37 194.55,228.60 194.61,233.66 194.66,228.96 194.71,230.23 194.77,226.92 194.82,233.67 194.87,228.12 194.93,234.11 194.98,232.80 195.03,231.95 195.09,228.24 195.14,229.56 195.19,233.24 195.25,230.80 195.30,231.24 195.35,229.98 195.41,234.47 195.46,231.28 195.51,229.50 195.57,234.36 195.62,232.54 195.67,230.16 195.73,229.98 195.78,233.28 195.83,233.09 195.89,233.73 195.94,233.61 195.99,233.45 196.05,230.66 196.10,234.39 196.15,227.03 196.21,232.73 196.26,229.09 196.31,232.56 196.37,232.76 196.42,228.58 196.47,229.87 196.53,230.50 196.58,228.78 196.63,236.58 196.69,234.69 196.74,228.93 196.79,238.91 196.85,234.20 196.90,231.66 196.95,234.09 197.01,238.61 197.06,233.69 197.11,228.93 197.17,233.33 197.22,231.08 197.27,229.68 197.33,234.96 197.38,236.17 197.43,232.03 197.49,231.43 197.54,232.66 197.59,234.71 197.65,229.61 197.70,235.74 197.75,228.30 197.81,234.28 197.86,235.17 197.91,230.69 197.97,234.88 198.02,232.69 198.07,237.80 198.13,232.37 198.18,228.93 198.23,224.54 198.29,233.37 198.34,233.44 198.39,230.97 198.45,236.35 198.50,229.51 198.55,235.16 198.61,229.70 198.66,230.64 198.71,236.03 198.77,237.38 198.82,230.85 198.87,233.99 198.93,224.54 198.98,232.52 199.03,233.76 199.09,233.19 199.14,233.42 199.19,235.77 199.25,232.26 199.30,231.64 199.35,234.52 199.41,228.41 199.46,230.98 199.51,230.68 199.57,233.04 199.62,234.15 199.67,231.31 199.73,227.96 199.78,230.68 199.83,234.77 199.89,227.70 199.94,235.95 199.99,232.85 200.05,231.57 200.10,232.03 200.15,229.78 200.21,235.06 200.26,231.95 200.31,232.80 200.37,238.68 200.42,230.55 200.47,229.60 200.53,234.50 200.58,231.45 200.63,232.63 200.69,229.51 200.74,229.87 200.79,227.98 200.85,230.21 200.90,231.80 200.95,230.37 201.01,231.32 201.06,229.24 201.11,237.70 201.17,229.96 201.22,232.06 201.27,231.01 201.33,225.42 201.38,230.85 201.43,227.02 201.49,233.44 201.54,230.41 201.59,229.53 201.65,225.45 201.70,229.72 201.75,231.46 201.80,232.55 201.86,226.85 201.91,232.63 201.96,228.71 202.02,231.77 202.07,231.89 202.12,228.90 202.18,230.41 202.23,226.90 202.28,231.98 202.34,235.65 202.39,230.51 202.44,227.86 202.50,223.19 202.55,232.34 202.60,232.12 202.66,229.42 202.71,226.16 202.76,227.34 202.82,224.97 202.87,224.22 202.92,229.66 202.98,228.26 203.03,226.84 203.08,228.89 203.14,233.97 203.19,226.87 203.24,226.55 203.30,229.99 203.35,232.62 203.40,228.99 203.46,227.14 203.51,225.23 203.56,231.66 203.62,229.57 203.67,227.16 203.72,228.69 203.78,232.28 203.83,229.06 203.88,229.09 203.94,235.46 203.99,231.33 204.04,232.73 204.10,228.53 204.15,228.53 204.20,226.59 204.26,224.25 204.31,230.21 204.36,230.61 204.42,232.28 204.47,233.46 204.52,229.53 204.58,235.35 204.63,228.59 204.68,228.62 204.74,230.84 204.79,228.53 204.84,231.57 204.90,232.17 204.95,231.36 205.00,229.25 205.06,229.63 205.11,236.11 205.16,228.66 205.22,232.33 205.27,224.01 205.32,232.23 205.38,231.39 205.43,230.98 205.48,232.16 205.54,231.24 205.59,232.24 205.64,236.59 205.70,228.25 205.75,230.85 205.80,231.67 205.86,232.40 205.91,228.85 205.96,233.10 206.02,229.45 206.07,232.74 206.12,231.34 206.18,232.45 206.23,234.51 206.28,232.61 206.34,230.15 206.39,227.25 206.44,233.66 206.50,227.63 206.55,233.31 206.60,230.89 206.66,229.23 206.71,227.86 206.76,230.07 206.82,233.05 206.87,233.63 206.92,231.31 206.98,230.92 207.03,229.88 207.08,230.93 207.14,231.60 207.19,228.55 207.24,229.62 207.30,232.44 207.35,232.69 207.40,233.28 207.46,233.70 207.51,229.72 207.56,236.08 207.62,230.29 207.67,226.69 207.72,234.50 207.78,231.22 207.83,228.11 207.88,230.27 207.94,235.52 207.99,224.26 208.04,231.03 208.10,230.42 208.15,231.40 208.20,229.00 208.26,235.23 208.31,235.45 208.36,230.47 208.42,226.34 208.47,230.63 208.52,233.22 208.58,230.52 208.63,234.47 208.68,229.52 208.74,234.25 208.79,229.51 208.84,230.91 208.90,234.64 208.95,226.44 209.00,231.52 209.05,229.93 209.11,231.22 209.16,227.75 209.21,227.29 209.27,232.22 209.32,232.21 209.37,234.28 209.43,232.10 209.48,231.51 209.53,233.67 209.59,228.55 209.64,231.46 209.69,228.25 209.75,232.93 209.80,232.42 209.85,228.57 209.91,231.25 209.96,224.73 210.01,227.66 210.07,232.37 210.12,230.42 210.17,229.46 210.23,230.62 210.28,232.78 210.33,233.17 210.39,231.72 210.44,234.28 210.49,233.64 210.55,229.13 210.60,232.23 210.65,232.91 210.71,232.94 210.76,232.73 210.81,229.73 210.87,230.65 210.92,232.20 210.97,228.52 211.03,230.81 211.08,227.12 211.13,231.11 211.19,232.42 211.24,234.15 211.29,230.51 211.35,230.18 211.40,234.21 211.45,231.01 211.51,231.78 211.56,235.98 211.61,225.19 211.67,233.74 211.72,233.47 211.77,229.15 211.83,228.51 211.88,231.59 211.93,230.25 211.99,230.85 212.04,231.83 212.09,229.72 212.15,231.33 212.20,235.00 212.25,231.19 212.31,229.59 212.36,230.88 212.41,234.40 212.47,234.24 212.52,229.33 212.57,227.12 212.63,228.62 212.68,232.80 212.73,234.70 212.79,228.88 212.84,229.30 212.89,231.40 212.95,228.42 213.00,230.60 213.05,228.72 213.11,231.02 213.16,229.30 213.21,234.16 213.27,232.52 213.32,229.58 213.37,230.83 213.43,229.49 213.48,231.64 213.53,229.91 213.59,228.46 213.64,227.81 213.69,231.16 213.75,228.21 213.80,233.93 213.85,233.05 213.91,232.96 213.96,232.75 214.01,224.17 214.07,232.66 214.12,233.83 214.17,230.33 214.23,235.42 214.28,229.65 214.33,231.79 214.39,230.78 214.44,231.42 214.49,230.41 214.55,231.76 214.60,226.80 214.65,234.19 214.71,232.80 214.76,234.82 214.81,229.44 214.87,231.90 214.92,231.28 214.97,233.57 215.03,231.26 215.08,229.64 215.13,233.10 215.19,231.19 215.24,236.83 215.29,232.74 215.35,228.15 215.40,235.41 215.45,232.04 215.51,231.92 215.56,231.37 215.61,227.81 215.67,233.71 215.72,230.47 215.77,232.05 215.83,230.03 215.88,234.82 215.93,227.53 215.99,232.29 216.04,231.20 216.09,234.21 216.15,227.47 216.20,231.76 216.25,231.43 216.31,229.96 216.36,228.64 216.41,228.10 216.46,225.19 216.52,226.64 216.57,229.84 216.62,230.34 216.68,230.32 216.73,231.07 216.78,226.72 216.84,231.91 216.89,228.23 216.94,229.57 217.00,229.02 217.05,230.48 217.10,231.82 217.16,235.21 217.21,230.04 217.26,229.61 217.32,228.66 217.37,231.03 217.42,232.51 217.48,227.93 217.53,229.87 217.58,232.47 217.64,231.14 217.69,227.60 217.74,237.06 217.80,228.90 217.85,230.79 217.90,230.50 217.96,230.92 218.01,228.85 218.06,232.54 218.12,226.65 218.17,232.86 218.22,228.85 218.28,233.73 218.33,230.58 218.38,223.65 218.44,231.99 218.49,234.67 218.54,231.98 218.60,226.06 218.65,231.85 218.70,230.11 218.76,233.98 218.81,232.01 218.86,231.80 218.92,229.90 218.97,232.32 219.02,231.17 219.08,233.89 219.13,234.38 219.18,235.94 219.24,229.88 219.29,230.25 219.34,230.19 219.40,231.92 219.45,229.94 219.50,228.06 219.56,233.25 219.61,231.45 219.66,230.99 219.72,228.98 219.77,229.74 219.82,226.07 219.88,228.80 219.93,228.84 219.98,230.38 220.04,227.48 220.09,230.71 220.14,233.92 220.20,229.60 220.25,230.68 220.30,230.65 220.36,231.62 220.41,223.51 220.46,233.63 220.52,231.90 220.57,229.13 220.62,231.29 220.68,228.96 220.73,231.06 220.78,234.13 220.84,232.90 220.89,231.31 220.94,234.60 221.00,235.64 221.05,229.18 221.10,232.26 221.16,233.99 221.21,229.88 221.26,229.02 221.32,227.05 221.37,233.85 221.42,228.57 221.48,229.61 221.53,229.28 221.58,234.58 221.64,223.90 221.69,235.47 221.74,225.82 221.80,230.31 221.85,231.95 221.90,226.25 221.96,228.85 222.01,230.72 222.06,237.11 222.12,228.77 222.17,224.71 222.22,230.28 222.28,232.68 222.33,229.64 222.38,232.54 222.44,228.69 222.49,228.99 222.54,232.01 222.60,230.70 222.65,232.49 222.70,230.22 222.76,234.69 222.81,229.98 222.86,227.69 222.92,226.34 222.97,229.47 223.02,227.87 223.08,233.49 223.13,232.18 223.18,233.86 223.24,228.10 223.29,229.46 223.34,227.37 223.40,228.11 223.45,229.77 223.50,229.62 223.56,229.52 223.61,230.42 223.66,232.94 223.71,231.00 223.77,234.25 223.82,230.22 223.87,231.85 223.93,231.62 223.98,228.20 224.03,229.25 224.09,225.90 224.14,230.72 224.19,229.94 224.25,228.74 224.30,230.66 224.35,228.91 224.41,233.30 224.46,229.17 224.51,233.17 224.57,229.66 224.62,235.34 224.67,229.21 224.73,228.27 224.78,229.97 224.83,224.58 224.89,226.81 224.94,228.91 224.99,229.95 225.05,228.96 225.10,227.18 225.15,228.10 225.21,233.46 225.26,234.44 225.31,236.88 225.37,229.26 225.42,231.78 225.47,230.16 225.53,226.93 225.58,230.56 225.63,228.46 225.69,225.46 225.74,229.51 225.79,228.81 225.85,229.88 225.90,233.36 225.95,227.72 226.01,226.65 226.06,225.56 226.11,233.25 226.17,227.04 226.22,227.21 226.27,225.93 226.33,228.67 226.38,228.04 226.43,230.19 226.49,229.56 226.54,229.69 226.59,224.53 226.65,229.17 226.70,225.75 226.75,226.98 226.81,230.73 226.86,224.55 226.91,223.79 226.97,221.87 227.02,227.90 227.07,225.97 227.13,226.15 227.18,226.55 227.23,225.49 227.29,225.67 227.34,228.46 227.39,223.10 227.45,231.08 227.50,229.18 227.55,226.02 227.61,227.24 227.66,229.29 227.71,231.91 227.77,224.71 227.82,228.84 227.87,228.26 227.93,230.05 227.98,228.00 228.03,229.63 228.09,228.52 228.14,227.92 228.19,228.05 228.25,231.77 228.30,230.06 228.35,228.15 228.41,229.40 228.46,229.52 228.51,224.60 228.57,225.49 228.62,232.15 228.67,229.66 228.73,231.32 228.78,228.39 228.83,230.16 228.89,231.31 228.94,234.63 228.99,230.92 229.05,230.54 229.10,232.32 229.15,229.21 229.21,234.41 229.26,229.44 229.31,233.49 229.37,226.31 229.42,231.76 229.47,228.84 229.53,228.06 229.58,223.18 229.63,230.70 229.69,234.72 229.74,229.78 229.79,231.20 229.85,230.30 229.90,229.87 229.95,232.27 230.01,229.10 230.06,237.58 230.11,229.10 230.17,229.03 230.22,227.20 230.27,225.93 230.33,236.55 230.38,230.74 230.43,224.60 230.49,230.40 230.54,230.42 230.59,231.23 230.65,231.70 230.70,231.88 230.75,229.06 230.81,227.84 230.86,228.24 230.91,233.47 230.96,233.66 231.02,228.47 231.07,229.30 231.12,230.94 231.18,232.10 231.23,227.76 231.28,231.87 231.34,234.39 231.39,223.49 231.44,230.55 231.50,229.93 231.55,229.38 231.60,232.36 231.66,229.96 231.71,232.64 231.76,230.46 231.82,229.45 231.87,231.55 231.92,230.47 231.98,229.98 232.03,225.90 232.08,231.57 232.14,226.21 232.19,231.00 232.24,230.77 232.30,229.58 232.35,228.79 232.40,230.94 232.46,229.00 232.51,231.14 232.56,230.23 232.62,232.31 232.67,229.89 232.72,230.02 232.78,229.64 232.83,233.12 232.88,227.61 232.94,230.83 232.99,230.36 233.04,237.90 233.10,229.31 233.15,227.61 233.20,228.08 233.26,229.75 233.31,226.22 233.36,231.30 233.42,233.16 233.47,231.83 233.52,229.13 233.58,227.15 233.63,230.25 233.68,228.95 233.74,227.03 233.79,229.64 233.84,231.15 233.90,230.00 233.95,229.15 234.00,229.74 234.06,230.20 234.11,230.32 234.16,229.49 234.22,233.30 234.27,234.42 234.32,230.98 234.38,231.36 234.43,234.51 234.48,226.88 234.54,228.95 234.59,231.30 234.64,233.15 234.70,226.51 234.75,227.88 234.80,231.56 234.86,237.09 234.91,236.31 234.96,227.82 235.02,232.16 235.07,237.60 235.12,232.08 235.18,227.55 235.23,235.64 235.28,225.75 235.34,231.16 235.39,231.04 235.44,227.41 235.50,227.68 235.55,229.63 235.60,230.97 235.66,232.83 235.71,223.72 235.76,229.00 235.82,227.20 235.87,229.39 235.92,237.04 235.98,227.94 236.03,230.78 236.08,226.85 236.14,228.29 236.19,231.51 236.24,231.97 236.30,236.17 236.35,229.88 236.40,233.43 236.46,236.25 236.51,229.98 236.56,232.35 236.62,235.66 236.67,225.61 236.72,231.00 236.78,230.17 236.83,236.23 236.88,225.40 236.94,230.67 236.99,232.75 237.04,229.24 237.10,231.29 237.15,232.22 237.20,229.92 237.26,237.89 237.31,234.27 237.36,226.90 237.42,231.43 237.47,231.99 237.52,229.01 237.58,233.32 237.63,230.78 237.68,232.39 237.74,231.53 237.79,233.94 237.84,230.88 237.90,230.41 237.95,230.49 238.00,233.83 238.06,233.57 238.11,230.63 238.16,232.32 238.21,230.98 238.27,229.34 238.32,235.58 238.37,237.85 238.43,232.53 238.48,231.98 238.53,228.45 238.59,230.85 238.64,233.36 238.69,233.96 238.75,230.63 238.80,233.77 238.85,223.57 238.91,230.28 238.96,230.60 239.01,231.43 239.07,228.91 239.12,229.05 239.17,233.51 239.23,229.08 239.28,228.66 239.33,237.02 239.39,233.46 239.44,226.83 239.49,231.35 239.55,232.73 239.60,225.93 239.65,231.06 239.71,230.67 239.76,231.28 239.81,231.73 239.87,230.17 239.92,230.33 239.97,233.74 240.03,226.51 240.08,233.18 240.13,230.16 240.19,224.01 240.24,227.96 240.29,229.09 240.35,231.07 240.40,232.55 240.45,228.37 240.51,230.41 240.56,233.92 240.61,237.57 240.67,231.45 240.72,237.20 240.77,229.79 240.83,228.79 240.88,232.28 240.93,228.37 240.99,229.14 241.04,234.27 241.09,228.97 241.15,227.53 241.20,233.91 241.25,231.16 241.31,229.74 241.36,231.34 241.41,228.54 241.47,227.62 241.52,233.74 241.57,231.44 241.63,226.43 241.68,226.43 241.73,229.53 241.79,228.57 241.84,228.36 241.89,229.16 241.95,229.01 242.00,230.88 242.05,232.61 242.11,227.20 242.16,229.37 242.21,233.38 242.27,227.35 242.32,228.65 242.37,230.61 242.43,225.33 242.48,232.15 242.53,229.77 242.59,233.01 242.64,229.30 242.69,232.33 242.75,230.99 242.80,229.95 242.85,229.77 242.91,228.62 242.96,227.03 243.01,229.70 243.07,232.19 243.12,224.45 243.17,228.15 243.23,229.30 243.28,227.13 243.33,229.36 243.39,230.58 243.44,230.35 243.49,227.14 243.55,224.64 243.60,234.18 243.65,232.79 243.71,227.93 243.76,232.14 243.81,228.43 243.87,229.15 243.92,231.76 243.97,230.32 244.03,232.08 244.08,233.55 244.13,228.58 244.19,232.86 244.24,229.27 244.29,232.18 244.35,232.39 244.40,226.97 244.45,226.22 244.51,231.48 244.56,229.07 244.61,229.74 244.67,226.23 244.72,226.49 244.77,223.79 244.83,226.20 244.88,230.04 244.93,229.67 244.99,225.22 245.04,226.66 245.09,224.50 245.15,226.84 245.20,223.89 245.25,225.48 245.31,229.24 245.36,222.39 245.41,231.20 245.46,223.90 245.52,223.92 245.57,225.36 245.62,226.66 245.68,223.07 245.73,226.03 245.78,227.99 245.84,222.07 245.89,221.94 245.94,226.27 246.00,226.07 246.05,220.71 246.10,225.83 246.16,221.29 246.21,222.00 246.26,219.03 246.32,223.38 246.37,223.64 246.42,221.97 246.48,223.88 246.53,221.21 246.58,223.46 246.64,224.15 246.69,226.77 246.74,225.18 246.80,221.27 246.85,218.46 246.90,223.90 246.96,227.31 247.01,225.35 247.06,228.75 247.12,226.01 247.17,226.29 247.22,226.94 247.28,227.13 247.33,227.28 247.38,228.58 247.44,226.37 247.49,226.92 247.54,228.31 247.60,226.11 247.65,232.44 247.70,228.12 247.76,222.37 247.81,227.37 247.86,230.57 247.92,230.16 247.97,227.79 248.02,227.69 248.08,231.30 248.13,229.00 248.18,228.66 248.24,230.87 248.29,231.67 248.34,227.85 248.40,228.94 248.45,234.21 248.50,228.86 248.56,228.19 248.61,229.16 248.66,229.48 248.72,233.32 248.77,234.08 248.82,229.95 248.88,229.23 248.93,230.29 248.98,226.61 249.04,229.34 249.09,233.03 249.14,227.78 249.20,230.00 249.25,228.87 249.30,225.49 249.36,231.51 249.41,231.97 249.46,230.46 249.52,232.34 249.57,230.68 249.62,229.27 249.68,227.82 249.73,228.00 249.78,227.72 249.84,228.84 249.89,229.27 249.94,231.40 250.00,228.77 250.05,231.93 250.10,224.19 250.16,223.04 250.21,234.37 250.26,229.98 250.32,231.71 250.37,233.39 250.42,232.66 250.48,231.68 250.53,228.28 250.58,231.02 250.64,230.11 250.69,231.09 250.74,228.57 250.80,230.02 250.85,234.05 250.90,231.50 250.96,230.01 251.01,229.20 251.06,227.21 251.12,230.16 251.17,232.36 251.22,230.33 251.28,233.25 251.33,234.87 251.38,232.46 251.44,232.09 251.49,227.30 251.54,230.30 251.60,230.43 251.65,225.41 251.70,230.24 251.76,225.65 251.81,226.14 251.86,232.62 251.92,231.53 251.97,228.20 252.02,226.97 252.08,230.61 252.13,232.46 252.18,230.56 252.24,226.78 252.29,227.76 252.34,231.97 252.40,235.73 252.45,227.67 252.50,225.45 252.56,231.80 252.61,225.68 252.66,228.16 252.71,231.94 252.77,229.09 252.82,228.20 252.87,228.41 252.93,224.80 252.98,227.93 253.03,229.55 253.09,232.24 253.14,223.03 253.19,230.46 253.25,224.04 253.30,233.04 253.35,228.28 253.41,231.31 253.46,227.51 253.51,231.57 253.57,231.09 253.62,225.98 253.67,227.78 253.73,228.53 253.78,232.98 253.83,233.27 253.89,227.76 253.94,231.96 253.99,231.45 254.05,232.43 254.10,227.70 254.15,230.15 254.21,231.43 254.26,231.20 254.31,230.85 254.37,225.80 254.42,229.22 254.47,228.22 254.53,231.21 254.58,230.61 254.63,229.66 254.69,227.69 254.74,228.73 254.79,227.79 254.85,231.93 254.90,229.32 254.95,230.49 255.01,232.12 255.06,230.39 255.11,230.06 255.17,231.41 255.22,230.12 255.27,229.81 255.33,227.84 255.38,230.47 255.43,230.82 255.49,227.08 255.54,229.45 255.59,225.63 255.65,227.18 255.70,229.42 255.75,230.04 255.81,226.10 255.86,229.78 255.91,231.07 255.97,230.51 256.02,227.68 256.07,233.27 256.13,231.63 256.18,230.59 256.23,229.43 256.29,231.75 256.34,230.15 256.39,226.96 256.45,232.86 256.50,230.05 256.55,229.50 256.61,229.10 256.66,228.42 256.71,229.01 256.77,230.29 256.82,228.30 256.87,228.09 256.93,225.93 256.98,230.11 257.03,231.07 257.09,229.52 257.14,234.18 257.19,231.06 257.25,230.97 257.30,231.22 257.35,227.94 257.41,225.16 257.46,228.47 257.51,230.61 257.57,224.36 257.62,229.29 257.67,222.66 257.73,228.41 257.78,229.18 257.83,229.36 257.89,230.33 257.94,226.55 257.99,230.80 258.05,226.77 258.10,232.63 258.15,231.22 258.21,227.69 258.26,230.09 258.31,223.97 258.37,232.42 258.42,227.40 258.47,236.30 258.53,225.15 258.58,233.46 258.63,229.69 258.69,222.56 258.74,231.15 258.79,230.27 258.85,233.37 258.90,225.41 258.95,228.83 259.01,226.81 259.06,226.91 259.11,230.34 259.17,228.56 259.22,225.58 259.27,230.03 259.33,227.07 259.38,229.37 259.43,230.87 259.49,228.98 259.54,226.62 259.59,231.56 259.65,229.72 259.70,224.35 259.75,229.91 259.81,230.75 259.86,230.68 259.91,229.80 259.96,229.43 260.02,228.67 260.07,228.80 260.12,232.42 260.18,228.52 260.23,228.06 260.28,227.98 260.34,230.38 260.39,227.87 260.44,230.09 260.50,229.55 260.55,233.29 260.60,228.00 260.66,229.95 260.71,228.00 260.76,229.75 260.82,228.86 260.87,231.41 260.92,227.85 260.98,225.78 261.03,225.92 261.08,229.23 261.14,226.37 261.19,227.91 261.24,227.56 261.30,233.12 261.35,230.98 261.40,226.89 261.46,228.40 261.51,225.35 261.56,230.49 261.62,230.25 261.67,228.12 261.72,224.74 261.78,227.43 261.83,228.27 261.88,224.68 261.94,228.35 261.99,226.54 262.04,225.93 262.10,225.63 262.15,225.52 262.20,227.45 262.26,227.16 262.31,227.51 262.36,227.61 262.42,227.33 262.47,226.74 262.52,228.48 262.58,230.61 262.63,227.37 262.68,227.95 262.74,229.96 262.79,226.36 262.84,221.34 262.90,226.59 262.95,234.23 263.00,224.69 263.06,227.87 263.11,230.20 263.16,230.49 263.22,228.96 263.27,221.28 263.32,229.18 263.38,224.76 263.43,227.97 263.48,230.87 263.54,224.05 263.59,225.17 263.64,228.64 263.70,227.46 263.75,223.33 263.80,230.00 263.86,226.15 263.91,233.07 263.96,231.28 264.02,224.83 264.07,226.52 264.12,226.21 264.18,231.10 264.23,226.42 264.28,223.75 264.34,227.46 264.39,228.92 264.44,227.66 264.50,227.43 264.55,225.47 264.60,229.72 264.66,229.16 264.71,228.12 264.76,226.02 264.82,225.59 264.87,224.92 264.92,230.80 264.98,229.11 265.03,227.66 265.08,223.84 265.14,229.77 265.19,227.62 265.24,224.56 265.30,227.49 265.35,226.82 265.40,228.72 265.46,222.57 265.51,226.62 265.56,229.16 265.62,224.96 265.67,228.50 265.72,229.05 265.78,229.36 265.83,225.73 265.88,228.65 265.94,232.31 265.99,226.26 266.04,226.50 266.10,230.68 266.15,231.33 266.20,226.59 266.26,225.12 266.31,229.45 266.36,225.97 266.42,226.65 266.47,226.42 266.52,226.18 266.58,224.84 266.63,228.54 266.68,226.20 266.74,224.16 266.79,224.90 266.84,222.75 266.90,228.92 266.95,222.56 267.00,225.32 267.06,225.95 267.11,227.53 267.16,229.46 267.21,224.53 267.27,230.68 267.32,223.17 267.37,225.38 267.43,225.36 267.48,227.64 267.53,226.82 267.59,229.90 267.64,224.24 267.69,228.38 267.75,221.65 267.80,225.06 267.85,224.04 267.91,229.44 267.96,224.20 268.01,221.90 268.07,223.67 268.12,226.55 268.17,224.21 268.23,224.09 268.28,224.34 268.33,224.10 268.39,227.49 268.44,224.98 268.49,222.64 268.55,221.97 268.60,227.46 268.65,220.49 268.71,229.88 268.76,223.85 268.81,223.06 268.87,225.18 268.92,223.17 268.97,220.88 269.03,222.06 269.08,224.43 269.13,222.38 269.19,225.85 269.24,221.75 269.29,218.91 269.35,226.13 269.40,225.89 269.45,222.45 269.51,221.68 269.56,224.87 269.61,220.13 269.67,216.09 269.72,221.88 269.77,223.14 269.83,222.56 269.88,221.85 269.93,224.59 269.99,220.90 270.04,220.61 270.09,219.99 270.15,226.42 270.20,224.17 270.25,222.83 270.31,223.91 270.36,222.12 270.41,220.20 270.47,220.73 270.52,221.62 270.57,224.67 270.63,224.74 270.68,221.69 270.73,221.44 270.79,221.41 270.84,224.37 270.89,225.44 270.95,226.14 271.00,225.20 271.05,226.99 271.11,225.16 271.16,225.11 271.21,225.01 271.27,225.83 271.32,224.59 271.37,222.32 271.43,227.46 271.48,225.36 271.53,226.05 271.59,224.64 271.64,223.82 271.69,226.50 271.75,225.95 271.80,230.30 271.85,227.58 271.91,228.81 271.96,227.22 272.01,228.05 272.07,227.22 272.12,224.33 272.17,232.92 272.23,224.14 272.28,227.84 272.33,223.34 272.39,224.24 272.44,226.56 272.49,226.65 272.55,223.48 272.60,226.27 272.65,228.10 272.71,226.59 272.76,220.64 272.81,227.34 272.87,232.64 272.92,226.82 272.97,229.69 273.03,226.14 273.08,225.68 273.13,230.65 273.19,226.01 273.24,229.20 273.29,229.09 273.35,229.33 273.40,228.83 273.45,226.49 273.51,227.26 273.56,225.62 273.61,229.25 273.67,226.75 273.72,229.06 273.77,225.35 273.83,225.30 273.88,229.19 273.93,230.17 273.99,227.81 274.04,223.83 274.09,229.10 274.15,229.72 274.20,228.76 274.25,225.97 274.31,234.48 274.36,233.51 274.41,230.34 274.46,226.35 274.52,225.88 274.57,228.29 274.62,226.06 274.68,226.89 274.73,228.45 274.78,230.83 274.84,225.79 274.89,230.12 274.94,226.87 275.00,228.63 275.05,229.13 275.10,227.46 275.16,228.71 275.21,227.00 275.26,226.05 275.32,226.61 275.37,224.41 275.42,230.10 275.48,226.73 275.53,229.25 275.58,230.50 275.64,231.28 275.69,227.27 275.74,225.90 275.80,227.76 275.85,229.41 275.90,228.37 275.96,228.75 276.01,231.95 276.06,225.33 276.12,231.55 276.17,228.55 276.22,230.19 276.28,227.27 276.33,230.76 276.38,224.94 276.44,227.98 276.49,230.78 276.54,228.08 276.60,224.64 276.65,228.66 276.70,229.03 276.76,231.99 276.81,227.76 276.86,229.90 276.92,227.27 276.97,230.84 277.02,226.58 277.08,224.41 277.13,230.38 277.18,225.68 277.24,227.38 277.29,227.83 277.34,232.29 277.40,230.17 277.45,232.74 277.50,227.54 277.56,228.68 277.61,228.08 277.66,235.21 277.72,227.51 277.77,230.46 277.82,228.75 277.88,230.33 277.93,232.50 277.98,224.34 278.04,228.54 278.09,225.83 278.14,228.75 278.20,226.72 278.25,226.36 278.30,228.95 278.36,228.06 278.41,231.26 278.46,231.17 278.52,229.84 278.57,229.01 278.62,226.34 278.68,229.34 278.73,230.17 278.78,226.63 278.84,231.01 278.89,226.99 278.94,230.01 279.00,227.89 279.05,229.50 279.10,227.76 279.16,224.23 279.21,226.34 279.26,229.65 279.32,229.48 279.37,224.00 279.42,230.08 279.48,227.82 279.53,225.73 279.58,224.71 279.64,227.65 279.69,228.86 279.74,221.64 279.80,226.19 279.85,228.16 279.90,226.84 279.96,226.92 280.01,225.36 280.06,226.03 280.12,226.56 280.17,222.01 280.22,223.95 280.28,225.31 280.33,229.11 280.38,225.63 280.44,220.98 280.49,227.76 280.54,227.77 280.60,226.59 280.65,225.36 280.70,227.86 280.76,224.06 280.81,227.90 280.86,231.89 280.92,224.81 280.97,225.15 281.02,226.48 281.08,229.44 281.13,223.86 281.18,228.51 281.24,226.55 281.29,227.10 281.34,226.02 281.40,224.62 281.45,227.93 281.50,228.85 281.56,225.24 281.61,228.91 281.66,228.91 281.72,233.64 281.77,229.92 281.82,231.76 281.87,225.09 281.93,230.33 281.98,230.14 282.03,229.67 282.09,229.18 282.14,226.12 282.19,231.92 282.25,222.99 282.30,230.01 282.35,229.81 282.41,236.26 282.46,230.66 282.51,230.52 282.57,227.59 282.62,230.25 282.67,231.63 282.73,227.47 282.78,228.77 282.83,230.46 282.89,231.66 282.94,229.91 282.99,229.87 283.05,225.55 283.10,228.80 283.15,227.38 283.21,229.16 283.26,230.51 283.31,230.63 283.37,233.49 283.42,226.22 283.47,235.59 283.53,228.74 283.58,236.10 283.63,227.99 283.69,231.03 283.74,231.79 283.79,232.14 283.85,232.68 283.90,234.24 283.95,232.76 284.01,231.60 284.06,230.02 284.11,231.75 284.17,230.66 284.22,229.97 284.27,232.86 284.33,233.85 284.38,228.59 284.43,230.30 284.49,233.13 284.54,230.28 284.59,230.87 284.65,234.81 284.70,231.23 284.75,227.81 284.81,235.32 284.86,230.93 284.91,234.35 284.97,236.03 285.02,235.60 285.07,233.43 285.13,234.06 285.18,230.51 285.23,232.19 285.29,233.03 285.34,234.22 285.39,230.37 285.45,234.38 285.50,233.44 285.55,237.68 285.61,227.74 285.66,238.53 285.71,229.77 285.77,235.21 285.82,232.45 285.87,230.92 285.93,235.13 285.98,231.39 286.03,232.52 286.09,233.69 286.14,233.03 286.19,234.33 286.25,228.28 286.30,234.51 286.35,234.16 286.41,232.23 286.46,231.39 286.51,232.98 286.57,231.04 286.62,232.05 286.67,232.58 286.73,233.89 286.78,236.90 286.83,232.16 286.89,231.02 286.94,230.95 286.99,232.74 287.05,233.20 287.10,233.44 287.15,239.22 287.21,232.66 287.26,233.50 287.31,233.13 287.37,232.75 287.42,239.92 287.47,231.46 287.53,235.18 287.58,240.26 287.63,233.78 287.69,231.09 287.74,232.09 287.79,236.40 287.85,232.77 287.90,233.91 287.95,229.29 288.01,229.25 288.06,236.67 288.11,236.61 288.17,232.89 288.22,232.66 288.27,233.44 288.33,235.83 288.38,235.73 288.43,234.16 288.49,230.37 288.54,233.75 288.59,235.11 288.65,233.76 288.70,233.18 288.75,233.70 288.81,234.45 288.86,230.01 288.91,236.16 288.97,232.06 289.02,234.87 289.07,238.49 289.12,233.86 289.18,235.47 289.23,234.85 289.28,238.40 289.34,236.21 289.39,235.06 289.44,236.96 289.50,234.20 289.55,237.39 289.60,237.93 289.66,235.21 289.71,234.37 289.76,234.34 289.82,230.11 289.87,235.52 289.92,236.83 289.98,235.84 290.03,234.52 290.08,235.19 290.14,227.70 290.19,235.17 290.24,235.82 290.30,234.04 290.35,234.83 290.40,234.52 290.46,228.91 290.51,235.01 290.56,238.11 290.62,233.11 290.67,233.18 290.72,233.02 290.78,233.88 290.83,233.02 290.88,227.79 290.94,231.86 290.99,236.55 291.04,236.09 291.10,235.09 291.15,235.43 291.20,237.10 291.26,233.68 291.31,237.14 291.36,232.47 291.42,237.60 291.47,236.01 291.52,232.50 291.58,232.42 291.63,233.10 291.68,238.45 291.74,232.60 291.79,235.75 291.84,234.24 291.90,235.38 291.95,233.90 292.00,236.77 292.06,234.95 292.11,233.03 292.16,228.44 292.22,235.68 292.27,232.84 292.32,235.50 292.38,236.14 292.43,233.20 292.48,235.78 292.54,233.58 292.59,235.06 292.64,235.16 292.70,239.25 292.75,233.96 292.80,233.38 292.86,233.80 292.91,234.71 292.96,234.07 293.02,228.74 293.07,236.12 293.12,233.28 293.18,231.58 293.23,235.02 293.28,235.65 293.34,235.07 293.39,236.78 293.44,234.27 293.50,233.82 293.55,233.18 293.60,231.42 293.66,235.76 293.71,234.36 293.76,234.38 293.82,238.42 293.87,235.10 293.92,234.51 293.98,233.90 294.03,229.69 294.08,234.99 294.14,228.82 294.19,238.45 294.24,231.24 294.30,232.43 294.35,234.55 294.40,235.16 294.46,238.82 294.51,233.53 294.56,236.07 294.62,239.54 294.67,236.56 294.72,232.09 294.78,240.85 294.83,236.54 294.88,234.78 294.94,232.76 294.99,234.38 295.04,235.51 295.10,233.98 295.15,237.19 295.20,234.13 295.26,235.01 295.31,233.21 295.36,234.22 295.42,234.60 295.47,234.37 295.52,231.08 295.58,233.62 295.63,237.29 295.68,233.29 295.74,232.55 295.79,234.90 295.84,240.17 295.90,235.62 295.95,231.85 296.00,233.90 296.06,237.93 296.11,235.39 296.16,232.00 296.22,232.09 296.27,234.91 296.32,240.95 296.37,237.37 296.43,232.60 296.48,236.10 296.53,233.74 296.59,237.22 296.64,235.48 296.69,233.87 296.75,239.97 296.80,237.13 296.85,234.44 296.91,234.84 296.96,230.19 297.01,234.32 297.07,232.23 297.12,233.90 297.17,234.21 297.23,236.02 297.28,234.38 297.33,231.65 297.39,233.76 297.44,233.26 297.49,232.88 297.55,232.86 297.60,233.30 297.65,234.26 297.71,237.75 297.76,237.73 297.81,236.36 297.87,236.08 297.92,231.62 297.97,233.13 298.03,231.47 298.08,231.21 298.13,233.70 298.19,234.93 298.24,233.29 298.29,234.24 298.35,236.91 298.40,236.69 298.45,234.58 298.51,233.87 298.56,234.57 298.61,235.54 298.67,234.54 298.72,233.49 298.77,235.72 298.83,234.90 298.88,235.23 298.93,239.03 298.99,241.13 299.04,233.94 299.09,238.97 299.15,236.05 299.20,234.45 299.25,234.65 299.31,236.02 299.36,232.63 299.41,230.56 299.47,236.19 299.52,235.31 299.57,236.28 299.63,238.24 299.68,237.29 299.73,231.00 299.79,234.60 299.84,235.24 299.89,232.58 299.95,235.74 300.00,238.43 300.05,234.20 300.11,233.96 300.16,232.12 300.21,235.84 300.27,234.34 300.32,234.65 300.37,236.85 300.43,238.14 300.48,238.04 300.53,231.63 300.59,236.53 300.64,238.32 300.69,236.11 300.75,235.64 300.80,234.75 300.85,235.04 300.91,234.67 300.96,234.24 301.01,231.16 301.07,232.14 301.12,230.29 301.17,241.22 301.23,234.32 301.28,234.76 301.33,235.70 301.39,233.82 301.44,235.50 301.49,232.60 301.55,235.91 301.60,237.96 301.65,236.55 301.71,235.13 301.76,234.35 301.81,237.98 301.87,236.08 301.92,236.30 301.97,234.49 302.03,233.37 302.08,235.67 302.13,234.96 302.19,234.95 302.24,238.17 302.29,235.61 302.35,234.34 302.40,233.76 302.45,233.06 302.51,235.03 302.56,234.38 302.61,234.46 302.67,240.44 302.72,233.61 302.77,234.33 302.83,234.21 302.88,238.45 302.93,234.41 302.99,238.12 303.04,238.68 303.09,236.41 303.15,237.23 303.20,235.74 303.25,235.31 303.31,239.41 303.36,240.90 303.41,239.05 303.47,234.79 303.52,234.88 303.57,236.78 303.62,233.50 303.68,231.69 303.73,234.45 303.78,241.20 303.84,235.55 303.89,236.43 303.94,232.60 304.00,241.27 304.05,241.27 304.10,235.81 304.16,233.28 304.21,238.85 304.26,237.42 304.32,234.54 304.37,234.98 304.42,234.25 304.48,233.12 304.53,235.51 304.58,233.95 304.64,234.49 304.69,231.66 304.74,235.88 304.80,231.28 304.85,232.45 304.90,234.55 304.96,235.30 305.01,237.20 305.06,237.01 305.12,231.76 305.17,236.43 305.22,236.76 305.28,233.84 305.33,239.60 305.38,233.17 305.44,231.27 305.49,234.17 305.54,233.43 305.60,241.30 305.65,238.31 305.70,234.33 305.76,234.02 305.81,235.36 305.86,235.11 305.92,231.63 305.97,232.95 306.02,232.41 306.08,241.31 306.13,238.78 306.18,237.04 306.24,234.36 306.29,236.21 306.34,237.64 306.40,233.35 306.45,236.23 306.50,234.88 306.56,241.31 306.61,228.99 306.66,236.58 306.72,237.77 306.77,230.99 306.82,234.33 306.88,234.10 306.93,234.84 306.98,234.72 307.04,231.82 307.09,236.11 307.14,236.59 307.20,233.74 307.25,240.12 307.30,235.17 307.36,236.60 307.41,232.09 307.46,234.46 307.52,239.35 307.57,237.61 307.62,236.60 307.68,235.50 307.73,241.33 307.78,234.00 307.84,237.75 307.89,236.35 307.94,235.43 308.00,238.11 308.05,236.35 308.10,233.69 308.16,235.57 308.21,236.56 308.26,233.58 308.32,234.76 308.37,234.79 308.42,231.93 308.48,234.77 308.53,237.56 308.58,236.31 308.64,233.46 308.69,233.90 308.74,233.96 308.80,234.05 308.85,232.14 308.90,234.59 308.96,233.41 309.01,234.22 309.06,234.32 309.12,234.25 309.17,237.25 309.22,231.21 309.28,234.69 309.33,235.37 309.38,231.21 309.44,232.64 309.49,231.75 309.54,235.17 309.60,233.20 309.65,240.57 309.70,233.74 309.76,234.09 309.81,235.04 309.86,236.33 309.92,234.37 309.97,233.01 310.02,232.11 310.08,238.13 310.13,232.70 310.18,236.44 310.24,236.45 310.29,234.49 310.34,235.31 310.40,235.46 310.45,236.12 310.50,235.41 310.56,238.11 310.61,234.92 310.66,235.57 310.72,232.07 310.77,236.60 310.82,238.10 310.87,236.44 310.93,239.52 310.98,234.82 311.03,236.18 311.09,238.62 311.14,238.97 311.19,236.82 311.25,234.79 311.30,235.27 311.35,233.49 311.41,234.03 311.46,235.60 311.51,232.27 311.57,234.26 311.62,235.22 311.67,234.53 311.73,238.01 311.78,233.74 311.83,233.39 311.89,236.93 311.94,236.99 311.99,233.63 312.05,233.35 312.10,235.85 312.15,237.11 312.21,235.56 312.26,238.65 312.31,232.69 312.37,232.06 312.42,236.28 312.47,233.75 312.53,239.30 312.58,236.24 312.63,232.70 312.69,234.92 312.74,235.74 312.79,231.69 312.85,235.05 312.90,236.68 312.95,235.09 313.01,235.31 313.06,233.91 313.11,233.51 313.17,237.02 313.22,235.35 313.27,234.49 313.33,235.25 313.38,231.02 313.43,235.18 313.49,236.11 313.54,235.01 313.59,232.33 313.65,234.36 313.70,236.59 313.75,237.16 313.81,238.28 313.86,237.92 313.91,234.66 313.97,235.34 314.02,238.51 314.07,236.03 314.13,234.01 314.18,236.72 314.23,229.31 314.29,235.69 314.34,241.23 314.39,237.04 314.45,233.41 314.50,236.09 314.55,236.43 314.61,235.15 314.66,237.91 314.71,235.12 314.77,233.33 314.82,236.50 314.87,234.77 314.93,233.45 314.98,235.43 315.03,235.77 315.09,241.00 315.14,233.07 315.19,234.88 315.25,238.02 315.30,234.98 315.35,236.88 315.41,233.65 315.46,234.12 315.51,238.09 315.57,233.44 315.62,237.12 315.67,235.40 315.73,234.09 315.78,232.88 315.83,236.88 315.89,235.73 315.94,238.45 315.99,233.04 316.05,235.11 316.10,231.50 316.15,235.71 316.21,234.50 316.26,235.55 316.31,234.42 316.37,235.63 316.42,234.61 316.47,232.37 316.53,236.48 316.58,232.97 316.63,236.32 316.69,235.84 316.74,234.64 316.79,233.51 316.85,234.83 316.90,232.33 316.95,233.00 317.01,233.08 317.06,234.39 317.11,238.54 317.17,234.25 317.22,236.65 317.27,236.29 317.33,233.35 317.38,232.50 317.43,234.68 317.49,235.62 317.54,231.34 317.59,233.42 317.65,232.67 317.70,230.45 317.75,232.00 317.81,231.70 317.86,230.25 317.91,234.59 317.97,226.97 318.02,234.84 318.07,232.41 318.12,230.87 318.18,232.78 318.23,228.59 318.28,235.37 318.34,229.34 318.39,232.33 318.44,230.97 318.50,231.83 318.55,233.11 318.60,233.64 318.66,231.76 318.71,231.18 318.76,230.90 318.82,232.41 318.87,232.62 318.92,228.92 318.98,231.54 319.03,230.69 319.08,231.71 319.14,227.04 319.19,229.40 319.24,234.52 319.30,231.48 319.35,233.96 319.40,232.18 319.46,234.36 319.51,230.58 319.56,235.74 319.62,237.91 319.67,232.54 319.72,238.00 319.78,235.86 319.83,233.22 319.88,235.34 319.94,231.10 319.99,234.20 320.04,234.06 320.10,234.61 320.15,233.72 320.20,234.23 320.26,235.33 320.31,232.28 320.36,230.18 320.42,237.92 320.47,234.67 320.52,234.48 320.58,240.44 320.63,236.64 320.68,237.84 320.74,234.10 320.79,235.39 320.84,236.56 320.90,235.65 320.95,234.36 321.00,234.54 321.06,235.81 321.11,237.49 321.16,233.92 321.22,233.34 321.27,230.10 321.32,233.55 321.38,232.34 321.43,236.65 321.48,239.99 321.54,239.21 321.59,237.11 321.64,238.55 321.70,232.81 321.75,238.61 321.80,229.46 321.86,236.42 321.91,235.01 321.96,234.68 322.02,233.56 322.07,238.49 322.12,237.54 322.18,236.65 322.23,237.52 322.28,233.94 322.34,236.50 322.39,233.79 322.44,233.42 322.50,235.75 322.55,235.58 322.60,234.47 322.66,239.15 322.71,236.05 322.76,237.41 322.82,241.00 322.87,234.97 322.92,239.53 322.98,235.53 323.03,238.52 323.08,233.42 323.14,234.59 323.19,235.44 323.24,235.96 323.30,237.09 323.35,237.07 323.40,235.62 323.46,235.52 323.51,238.32 323.56,236.44 323.62,235.35 323.67,235.93 323.72,235.04 323.78,233.57 323.83,236.28 323.88,236.90 323.94,237.72 323.99,236.66 324.04,234.91 324.10,237.14 324.15,239.20 324.20,236.77 324.26,236.43 324.31,236.62 324.36,241.71 324.42,236.45 324.47,238.08 324.52,234.69 324.58,233.76 324.63,235.83 324.68,236.85 324.74,237.67 324.79,240.04 324.84,232.55 324.90,235.57 324.95,238.20 325.00,239.07 325.06,236.16 325.11,233.90 325.16,236.78 325.22,234.68 325.27,233.16 325.32,237.23 325.37,235.50 325.43,237.99 325.48,241.80 325.53,235.30 325.59,233.59 325.64,235.74 325.69,240.35 325.75,234.80 325.80,232.83 325.85,237.57 325.91,238.87 325.96,239.22 326.01,232.65 326.07,236.50 326.12,236.43 326.17,233.73 326.23,233.23 326.28,238.53 326.33,234.26 326.39,237.59 326.44,238.13 326.49,230.32 326.55,232.23 326.60,233.66 326.65,236.81 326.71,238.80 326.76,232.52 326.81,235.18 326.87,236.93 326.92,238.00 326.97,235.32 327.03,236.80 327.08,230.17 327.13,235.62 327.19,233.86 327.24,240.25 327.29,235.48 327.35,236.08 327.40,235.66 327.45,235.61 327.51,238.31 327.56,230.21 327.61,234.95 327.67,236.30 327.72,235.82 327.77,235.82 327.83,230.90 327.88,233.62 327.93,236.32 327.99,236.13 328.04,238.34 328.09,237.07 328.15,236.35 328.20,237.50 328.25,234.45 328.31,236.27 328.36,238.53 328.41,234.66 328.47,235.16 328.52,235.87 328.57,234.01 328.63,236.92 328.68,237.87 328.73,236.71 328.79,235.79 328.84,235.50 328.89,237.07 328.95,234.77 329.00,237.42 329.05,235.83 329.11,235.81 329.16,236.19 329.21,236.63 329.27,236.45 329.32,235.80 329.37,235.46 329.43,238.39 329.48,235.98 329.53,238.86 329.59,235.66 329.64,237.62 329.69,234.53 329.75,234.29 329.80,236.78 329.85,235.91 329.91,233.43 329.96,234.51 330.01,236.55 330.07,234.72 330.12,235.98 330.17,235.71 330.23,234.83 330.28,230.84 330.33,235.02 330.39,234.23 330.44,236.97 330.49,235.64 330.55,237.38 330.60,234.12 330.65,235.73 330.71,239.12 330.76,236.14 330.81,237.20 330.87,239.46 330.92,238.65 330.97,240.30 331.03,235.29 331.08,233.98 331.13,237.19 331.19,236.83 331.24,237.50 331.29,234.35 331.35,234.98 331.40,232.24 331.45,232.91 331.51,235.92 331.56,237.64 331.61,234.25 331.67,236.92 331.72,234.54 331.77,235.07 331.83,237.08 331.88,236.07 331.93,236.76 331.99,236.23 332.04,242.13 332.09,235.14 332.15,235.43 332.20,236.43 332.25,236.96 332.31,235.36 332.36,235.54 332.41,241.56 332.47,237.49 332.52,237.19 332.57,237.44 332.62,236.98 332.68,234.60 332.73,237.37 332.78,234.55 332.84,236.23 332.89,235.38 332.94,235.15 333.00,237.91 333.05,237.37 333.10,236.96 333.16,235.42 333.21,237.84 333.26,236.99 333.32,238.57 333.37,234.04 333.42,241.23 333.48,231.38 333.53,235.45 333.58,234.79 333.64,235.70 333.69,236.73 333.74,234.83 333.80,234.20 333.85,235.45 333.90,237.80 333.96,233.45 334.01,236.22 334.06,238.81 334.12,239.48 334.17,236.04 334.22,239.15 334.28,235.26 334.33,235.57 334.38,236.11 334.44,234.36 334.49,236.49 334.54,239.91 334.60,235.33 334.65,236.42 334.70,232.03 334.76,234.12 334.81,238.48 334.86,236.31 334.92,235.45 334.97,235.00 335.02,240.66 335.08,236.66 335.13,234.22 335.18,235.67 335.24,232.76 335.29,237.86 335.34,238.58 335.40,242.25 335.45,239.07 335.50,236.69 335.56,235.36 335.61,240.53 335.66,235.99 335.72,235.35 335.77,234.39 335.82,236.39 335.88,238.29 335.93,242.30 335.98,236.87 336.04,237.14 336.09,234.26 336.14,235.89 336.20,236.46 336.25,238.21 336.30,236.25 336.36,236.12 336.41,240.73 336.46,236.89 336.52,236.84 336.57,237.48 336.62,239.72 336.68,235.69 336.73,233.83 336.78,237.24 336.84,235.66 336.89,234.50 336.94,234.47 337.00,241.19 337.05,234.83 337.10,240.74 337.16,237.94 337.21,235.92 337.26,233.25 337.32,235.50 337.37,232.30 337.42,238.87 337.48,239.40 337.53,233.20 337.58,235.75 337.64,234.73 337.69,235.56 337.74,237.90 337.80,236.03 337.85,235.51 337.90,236.23 337.96,237.12 338.01,238.48 338.06,238.96 338.12,237.79 338.17,238.01 338.22,236.15 338.28,235.16 338.33,236.94 338.38,239.13 338.44,234.91 338.49,236.42 338.54,233.43 338.60,236.34 338.65,231.92 338.70,237.57 338.76,237.19 338.81,236.49 338.86,237.95 338.92,234.40 338.97,236.16 339.02,233.77 339.08,239.45 339.13,236.97 339.18,239.82 339.24,233.84 339.29,238.84 339.34,238.28 339.40,237.85 339.45,238.76 339.50,235.26 339.56,235.48 339.61,232.42 339.66,239.05 339.72,236.99 339.77,233.36 339.82,235.50 339.87,237.24 339.93,237.45 339.98,234.70 340.03,240.28 340.09,236.72 340.14,235.48 340.19,240.66 340.25,237.65 340.30,236.01 340.35,238.08 340.41,236.60 340.46,235.35 340.51,241.41 340.57,237.25 340.62,234.54 340.67,235.01 340.73,237.15 340.78,234.00 340.83,234.15 340.89,235.83 340.94,237.67 340.99,236.83 341.05,236.25 341.10,240.07 341.15,235.60 341.21,239.12 341.26,235.47 341.31,236.99 341.37,235.90 341.42,236.11 341.47,235.63 341.53,236.27 341.58,237.74 341.63,235.47 341.69,237.72 341.74,235.16 341.79,240.12 341.85,236.30 341.90,234.39 341.95,234.89 342.01,234.59 342.06,236.87 342.11,234.69 342.17,238.13 342.22,232.97 342.27,235.45 342.33,237.87 342.38,235.85 342.43,242.57 342.49,234.56 342.54,237.81 342.59,238.46 342.65,238.18 342.70,236.20 342.75,238.13 342.81,235.70 342.86,236.04 342.91,237.52 342.97,239.05 343.02,235.01 343.07,237.93 343.13,237.18 343.18,235.72 343.23,237.69 343.29,237.25 343.34,233.08 343.39,234.80 343.45,238.06 343.50,237.01"/>
<path d="M154.7 214 L154.9 61 L157.1 61 L157.3 214 Z" fill="#a0a0ff"/>
<path d="M155.2 61 L155.2 0 L156.8 0 L156.8 61 Z" fill="#3030ff"/>
</g>
<g stroke="#ff0000" stroke-width="1.5" stroke-opacity="0.62"><line x1="90.5" y1="262.3" x2="90.5" y2="249.3"/><line x1="106.9" y1="262.3" x2="106.9" y2="187.0"/><line x1="123.6" y1="262.3" x2="123.6" y2="183.0"/><line x1="125.0" y1="262.3" x2="125.0" y2="235.0"/><line x1="164.3" y1="262.3" x2="164.3" y2="253.3"/><line x1="177.5" y1="262.3" x2="177.5" y2="235.8"/><line x1="191.5" y1="262.3" x2="191.5" y2="253.9"/><line x1="202.4" y1="262.3" x2="202.4" y2="248.3"/><line x1="219.8" y1="262.3" x2="219.8" y2="254.2"/><line x1="228.4" y1="262.3" x2="228.4" y2="245.5"/><line x1="245.8" y1="262.3" x2="245.8" y2="243.0"/><line x1="268.5" y1="262.3" x2="268.5" y2="245.5"/><line x1="270.7" y1="262.3" x2="270.7" y2="246.0"/><line x1="272.4" y1="262.3" x2="272.4" y2="250.0"/><line x1="279.6" y1="262.3" x2="279.6" y2="249.2"/><line x1="280.6" y1="262.3" x2="280.6" y2="245.5"/><line x1="284.8" y1="262.3" x2="284.8" y2="254.6"/><line x1="299.8" y1="262.3" x2="299.8" y2="254.5"/><line x1="303.4" y1="262.3" x2="303.4" y2="250.7"/><line x1="306.5" y1="262.3" x2="306.5" y2="254.5"/><line x1="317.8" y1="262.3" x2="317.8" y2="251.6"/><line x1="318.8" y1="262.3" x2="318.8" y2="250.4"/><line x1="342.8" y1="262.3" x2="342.8" y2="254.5"/></g>
<g fill="#000"><circle cx="91.95" cy="205.3" r="2.2"/><circle cx="107.8" cy="141.2" r="2.2"/><circle cx="124.4" cy="153.4" r="2.2"/><circle cx="178.6" cy="209.7" r="2.2"/><circle cx="205.7" cy="217.6" r="2.2"/><circle cx="228.8" cy="218" r="2.2"/><circle cx="246.5" cy="216.1" r="2.2"/><circle cx="271.3" cy="212.2" r="2.2"/><circle cx="281.8" cy="217.2" r="2.2"/><circle cx="319.8" cy="222.4" r="2.2"/></g>
<g stroke="#555" stroke-width="0.7"><line x1="23.70" y1="262.3" x2="23.70" y2="264.6"/><line x1="37.02" y1="262.3" x2="37.02" y2="264.6"/><line x1="50.35" y1="262.3" x2="50.35" y2="264.6"/><line x1="63.67" y1="262.3" x2="63.67" y2="264.6"/><line x1="77.00" y1="262.3" x2="77.00" y2="264.6"/><line x1="90.33" y1="262.3" x2="90.33" y2="264.6"/><line x1="103.65" y1="262.3" x2="103.65" y2="264.6"/><line x1="116.98" y1="262.3" x2="116.98" y2="264.6"/><line x1="130.30" y1="262.3" x2="130.30" y2="264.6"/><line x1="143.62" y1="262.3" x2="143.62" y2="264.6"/><line x1="156.95" y1="262.3" x2="156.95" y2="264.6"/><line x1="170.27" y1="262.3" x2="170.27" y2="264.6"/><line x1="183.60" y1="262.3" x2="183.60" y2="264.6"/><line x1="196.92" y1="262.3" x2="196.92" y2="264.6"/><line x1="210.25" y1="262.3" x2="210.25" y2="264.6"/><line x1="223.57" y1="262.3" x2="223.57" y2="264.6"/><line x1="236.90" y1="262.3" x2="236.90" y2="264.6"/><line x1="250.22" y1="262.3" x2="250.22" y2="264.6"/><line x1="263.55" y1="262.3" x2="263.55" y2="264.6"/><line x1="276.88" y1="262.3" x2="276.88" y2="264.6"/><line x1="290.20" y1="262.3" x2="290.20" y2="264.6"/><line x1="303.52" y1="262.3" x2="303.52" y2="264.6"/><line x1="316.85" y1="262.3" x2="316.85" y2="264.6"/><line x1="330.18" y1="262.3" x2="330.18" y2="264.6"/><line x1="343.50" y1="262.3" x2="343.50" y2="264.6"/></g>
<rect x="23.7" y="1.5" width="319.8" height="260.8" fill="none" stroke="#222" stroke-width="1.4"/>
<g font-size="11.5" text-anchor="middle" fill="#000" stroke="#000" stroke-width="0.25"><text x="23.70" y="276.7">20</text><text x="77.00" y="276.7">30</text><text x="130.30" y="276.7">40</text><text x="183.60" y="276.7">50</text><text x="236.90" y="276.7">60</text><text x="290.20" y="276.7">70</text><text x="343.50" y="276.7">80</text></g>
<text x="154.4" y="22.3" font-size="11.6" text-anchor="end" stroke="#000" stroke-width="0.25">Al</text>
<line x1="182.7" y1="48.2" x2="205.6" y2="48.2" stroke="#0000ff" stroke-width="1.3"/>
<line x1="182.7" y1="63.0" x2="205.6" y2="63.0" stroke="#ff0000" stroke-width="1.3"/>
<text x="205.9" y="50.9" font-size="11.5" fill="#0000ff" stroke="#0000ff" stroke-width="0.3">Mn-doped CuO</text>
<text x="205.9" y="65.9" font-size="11.4" fill="#ff0000" stroke="#ff0000" stroke-width="0.3" textLength="123.4" lengthAdjust="spacingAndGlyphs">CuO(PDF#04-004-5685)</text>
<text transform="translate(12.3,147.2) rotate(-90)" font-size="15.6" text-anchor="middle" textLength="100.2" lengthAdjust="spacingAndGlyphs" stroke="#000" stroke-width="0.2">Intensity(a.u.)</text>
<text x="145.5" y="294.6" font-size="14.5" stroke="#000" stroke-width="0.2">2</text>
<text x="155.0" y="295.4" style="font:italic normal 14px 'DejaVu Serif',serif">θ</text>
<text x="165.6" y="294.6" font-size="14.5" stroke="#000" stroke-width="0.2">(Degree)</text>
</svg>
</body></html>
